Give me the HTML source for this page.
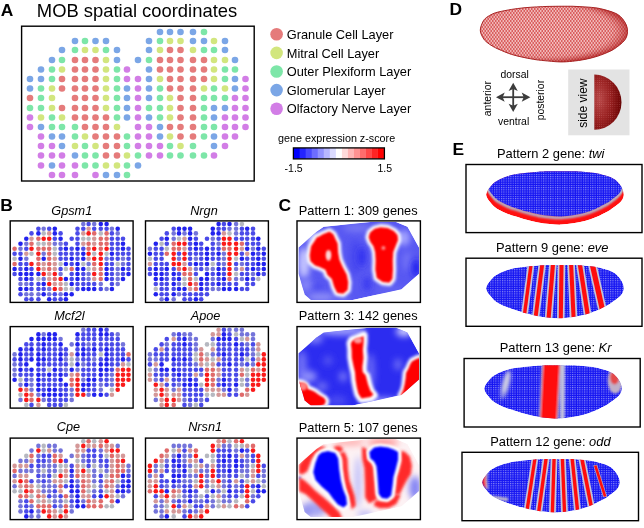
<!DOCTYPE html>
<html><head><meta charset="utf-8"><title>MOB spatial coordinates</title>
<style>html,body{margin:0;padding:0;background:#fff;overflow:hidden;}svg{display:block;}</style></head>
<body><svg width="644" height="528" viewBox="0 0 644 528" font-family='"Liberation Sans", Arial, Helvetica, sans-serif' fill="#000">
<defs><clipPath id="hull"><polygon points="1.5,26.6 19.4,10.8 26.7,5.9 74.2,1.0 98.8,1.0 110.5,5.9 122.0,26.6 122.0,52.8 110.5,63.2 104.4,68.4 55.7,79.0 13.8,79.0 7.7,73.8 1.5,52.8"/></clipPath><filter id="bl3" x="-100%" y="-100%" width="300%" height="300%"><feGaussianBlur stdDeviation="3"/></filter><filter id="bl2" x="-100%" y="-100%" width="300%" height="300%"><feGaussianBlur stdDeviation="1.8"/></filter><filter id="bl1" x="-100%" y="-100%" width="300%" height="300%"><feGaussianBlur stdDeviation="0.8"/></filter><filter id="bl05" x="-100%" y="-100%" width="300%" height="300%"><feGaussianBlur stdDeviation="0.45"/></filter><path id="emb" d="M20.10,30.25 C20.10,29.14 20.65,27.90 21.20,26.79 C21.75,25.68 22.21,25.06 23.40,23.59 C24.60,22.12 26.04,19.73 28.36,17.99 C30.68,16.26 34.10,14.51 37.31,13.20 C40.53,11.88 43.76,10.94 47.64,10.10 C51.52,9.27 56.45,8.67 60.58,8.19 C64.71,7.71 68.55,7.46 72.43,7.23 C76.30,7.00 78.07,6.87 83.86,6.80 C89.64,6.73 101.23,6.69 107.13,6.80 C113.02,6.91 115.39,7.12 119.24,7.44 C123.10,7.76 126.45,8.01 130.26,8.72 C134.07,9.43 139.07,10.69 142.10,11.70 C145.13,12.72 146.69,13.66 148.44,14.79 C150.18,15.93 151.24,16.93 152.57,18.53 C153.90,20.12 155.55,22.48 156.42,24.39 C157.30,26.30 157.80,28.21 157.80,29.99 C157.80,31.76 157.30,33.49 156.42,35.05 C155.55,36.60 154.17,37.89 152.57,39.31 C150.96,40.73 148.53,42.33 146.78,43.58 C145.04,44.82 144.86,45.27 142.10,46.77 C139.35,48.28 134.14,50.95 130.26,52.58 C126.38,54.22 122.69,55.53 118.83,56.58 C114.98,57.63 111.03,58.29 107.13,58.87 C103.22,59.46 99.30,59.98 95.42,60.10 C91.54,60.22 87.73,59.90 83.86,59.57 C79.98,59.23 76.03,58.79 72.15,58.07 C68.27,57.36 64.44,56.34 60.58,55.30 C56.73,54.26 52.32,52.90 49.02,51.84 C45.71,50.77 43.28,49.93 40.75,48.91 C38.23,47.89 35.94,46.82 33.87,45.71 C31.80,44.60 30.11,43.75 28.36,42.24 C26.62,40.73 24.60,38.11 23.40,36.65 C22.21,35.18 21.75,34.52 21.20,33.45 C20.65,32.38 20.10,31.36 20.10,30.25Z"/><clipPath id="embclip"><use href="#emb"/></clipPath><pattern id="dtex" width="3" height="4" patternUnits="userSpaceOnUse"><rect width="3" height="4" fill="#f4c0c0"/><ellipse cx="0.75" cy="1" rx="1.1" ry="0.78" fill="#d03a3a"/><ellipse cx="2.25" cy="3" rx="1.1" ry="0.78" fill="#d03a3a"/></pattern><pattern id="btex" width="2.4" height="2.2" patternUnits="userSpaceOnUse"><rect width="2.4" height="2.2" fill="#1616f2"/><circle cx="0.6" cy="0.55" r="0.62" fill="#9090f8"/></pattern><radialGradient id="dgrad" cx="0.45" cy="0.45" r="0.55"><stop offset="0" stop-color="#e9a4a4" stop-opacity="0"/><stop offset="0.8" stop-color="#d66c6c" stop-opacity="0.15"/><stop offset="1" stop-color="#b02020" stop-opacity="0.7"/></radialGradient><radialGradient id="sgrad" cx="0.2" cy="0.45" r="0.9"><stop offset="0" stop-color="#b84848"/><stop offset="0.4" stop-color="#9c2424"/><stop offset="0.8" stop-color="#740808"/><stop offset="1" stop-color="#520202"/></radialGradient><pattern id="stex" width="2.2" height="2.2" patternUnits="userSpaceOnUse"><circle cx="1.1" cy="1.1" r="0.45" fill="#e8a0a0"/></pattern></defs>
<text x="0.82" y="15.5" font-size="17.4" font-weight="bold">A</text>
<text x="36.82" y="17.2" font-size="18.4">MOB spatial coordinates</text>
<rect x="21.6" y="26.2" width="232.6" height="154.8" fill="none" stroke="#000" stroke-width="1.4"/>
<circle cx="160" cy="32" r="3.3" fill="#7ba6e6"/>
<circle cx="170" cy="32" r="3.3" fill="#7ba6e6"/>
<circle cx="180.5" cy="32" r="3.3" fill="#7ba6e6"/>
<circle cx="193" cy="32" r="3.3" fill="#7ba6e6"/>
<circle cx="204" cy="32" r="3.3" fill="#7de6a8"/>
<circle cx="75" cy="41" r="3.3" fill="#7ba6e6"/>
<circle cx="85" cy="41" r="3.3" fill="#7de6a8"/>
<circle cx="95.5" cy="41" r="3.3" fill="#7ba6e6"/>
<circle cx="106" cy="41" r="3.3" fill="#7ba6e6"/>
<circle cx="149" cy="41" r="3.3" fill="#7ba6e6"/>
<circle cx="160" cy="41" r="3.3" fill="#7de6a8"/>
<circle cx="170" cy="41" r="3.3" fill="#d2e67e"/>
<circle cx="180.5" cy="41" r="3.3" fill="#d2e67e"/>
<circle cx="193" cy="41" r="3.3" fill="#7ba6e6"/>
<circle cx="204" cy="41" r="3.3" fill="#7ba6e6"/>
<circle cx="214" cy="41" r="3.3" fill="#d2e67e"/>
<circle cx="225" cy="41" r="3.3" fill="#7ba6e6"/>
<circle cx="62" cy="50" r="3.3" fill="#7ba6e6"/>
<circle cx="75" cy="50" r="3.3" fill="#7de6a8"/>
<circle cx="85" cy="50" r="3.3" fill="#d2e67e"/>
<circle cx="95.5" cy="50" r="3.3" fill="#d2e67e"/>
<circle cx="106" cy="50" r="3.3" fill="#7de6a8"/>
<circle cx="117" cy="50" r="3.3" fill="#7ba6e6"/>
<circle cx="149" cy="50" r="3.3" fill="#7ba6e6"/>
<circle cx="160" cy="50" r="3.3" fill="#d2e67e"/>
<circle cx="170" cy="50" r="3.3" fill="#e57b7b"/>
<circle cx="180.5" cy="50" r="3.3" fill="#e57b7b"/>
<circle cx="193" cy="50" r="3.3" fill="#d2e67e"/>
<circle cx="204" cy="50" r="3.3" fill="#7de6a8"/>
<circle cx="214" cy="50" r="3.3" fill="#7de6a8"/>
<circle cx="225" cy="50" r="3.3" fill="#7ba6e6"/>
<circle cx="52" cy="60" r="3.3" fill="#7ba6e6"/>
<circle cx="62" cy="60" r="3.3" fill="#7de6a8"/>
<circle cx="75" cy="60" r="3.3" fill="#e57b7b"/>
<circle cx="85" cy="60" r="3.3" fill="#e57b7b"/>
<circle cx="95.5" cy="60" r="3.3" fill="#e57b7b"/>
<circle cx="106" cy="60" r="3.3" fill="#d2e67e"/>
<circle cx="117" cy="60" r="3.3" fill="#7ba6e6"/>
<circle cx="138" cy="60" r="3.3" fill="#7ba6e6"/>
<circle cx="149" cy="60" r="3.3" fill="#7de6a8"/>
<circle cx="160" cy="60" r="3.3" fill="#e57b7b"/>
<circle cx="170" cy="60" r="3.3" fill="#e57b7b"/>
<circle cx="180.5" cy="60" r="3.3" fill="#e57b7b"/>
<circle cx="193" cy="60" r="3.3" fill="#e57b7b"/>
<circle cx="204" cy="60" r="3.3" fill="#e57b7b"/>
<circle cx="214" cy="60" r="3.3" fill="#d2e67e"/>
<circle cx="225" cy="60" r="3.3" fill="#d2e67e"/>
<circle cx="235" cy="60" r="3.3" fill="#7ba6e6"/>
<circle cx="41" cy="69.5" r="3.3" fill="#7ba6e6"/>
<circle cx="52" cy="69.5" r="3.3" fill="#7de6a8"/>
<circle cx="62" cy="69.5" r="3.3" fill="#d2e67e"/>
<circle cx="75" cy="69.5" r="3.3" fill="#e57b7b"/>
<circle cx="85" cy="69.5" r="3.3" fill="#e57b7b"/>
<circle cx="95.5" cy="69.5" r="3.3" fill="#e57b7b"/>
<circle cx="106" cy="69.5" r="3.3" fill="#d2e67e"/>
<circle cx="117" cy="69.5" r="3.3" fill="#7de6a8"/>
<circle cx="127" cy="69.5" r="3.3" fill="#d27de6"/>
<circle cx="149" cy="69.5" r="3.3" fill="#7ba6e6"/>
<circle cx="160" cy="69.5" r="3.3" fill="#e57b7b"/>
<circle cx="170" cy="69.5" r="3.3" fill="#e57b7b"/>
<circle cx="180.5" cy="69.5" r="3.3" fill="#e57b7b"/>
<circle cx="193" cy="69.5" r="3.3" fill="#e57b7b"/>
<circle cx="204" cy="69.5" r="3.3" fill="#e57b7b"/>
<circle cx="214" cy="69.5" r="3.3" fill="#d2e67e"/>
<circle cx="225" cy="69.5" r="3.3" fill="#7de6a8"/>
<circle cx="235" cy="69.5" r="3.3" fill="#7de6a8"/>
<circle cx="30" cy="79" r="3.3" fill="#7ba6e6"/>
<circle cx="41" cy="79" r="3.3" fill="#7ba6e6"/>
<circle cx="52" cy="79" r="3.3" fill="#7de6a8"/>
<circle cx="62" cy="79" r="3.3" fill="#e57b7b"/>
<circle cx="75" cy="79" r="3.3" fill="#e57b7b"/>
<circle cx="85" cy="79" r="3.3" fill="#e57b7b"/>
<circle cx="95.5" cy="79" r="3.3" fill="#e57b7b"/>
<circle cx="106" cy="79" r="3.3" fill="#d2e67e"/>
<circle cx="117" cy="79" r="3.3" fill="#7de6a8"/>
<circle cx="127" cy="79" r="3.3" fill="#d27de6"/>
<circle cx="138" cy="79" r="3.3" fill="#d27de6"/>
<circle cx="149" cy="79" r="3.3" fill="#7ba6e6"/>
<circle cx="160" cy="79" r="3.3" fill="#d2e67e"/>
<circle cx="170" cy="79" r="3.3" fill="#e57b7b"/>
<circle cx="180.5" cy="79" r="3.3" fill="#e57b7b"/>
<circle cx="193" cy="79" r="3.3" fill="#e57b7b"/>
<circle cx="204" cy="79" r="3.3" fill="#e57b7b"/>
<circle cx="214" cy="79" r="3.3" fill="#d2e67e"/>
<circle cx="225" cy="79" r="3.3" fill="#7de6a8"/>
<circle cx="235" cy="79" r="3.3" fill="#7ba6e6"/>
<circle cx="245.5" cy="79" r="3.3" fill="#d27de6"/>
<circle cx="30" cy="88.5" r="3.3" fill="#7ba6e6"/>
<circle cx="41" cy="88.5" r="3.3" fill="#7de6a8"/>
<circle cx="52" cy="88.5" r="3.3" fill="#d2e67e"/>
<circle cx="62" cy="88.5" r="3.3" fill="#e57b7b"/>
<circle cx="75" cy="88.5" r="3.3" fill="#e57b7b"/>
<circle cx="85" cy="88.5" r="3.3" fill="#e57b7b"/>
<circle cx="95.5" cy="88.5" r="3.3" fill="#e57b7b"/>
<circle cx="106" cy="88.5" r="3.3" fill="#d2e67e"/>
<circle cx="117" cy="88.5" r="3.3" fill="#7de6a8"/>
<circle cx="127" cy="88.5" r="3.3" fill="#7ba6e6"/>
<circle cx="138" cy="88.5" r="3.3" fill="#d27de6"/>
<circle cx="149" cy="88.5" r="3.3" fill="#7ba6e6"/>
<circle cx="160" cy="88.5" r="3.3" fill="#7de6a8"/>
<circle cx="170" cy="88.5" r="3.3" fill="#e57b7b"/>
<circle cx="180.5" cy="88.5" r="3.3" fill="#e57b7b"/>
<circle cx="193" cy="88.5" r="3.3" fill="#e57b7b"/>
<circle cx="204" cy="88.5" r="3.3" fill="#d2e67e"/>
<circle cx="214" cy="88.5" r="3.3" fill="#7de6a8"/>
<circle cx="225" cy="88.5" r="3.3" fill="#d2e67e"/>
<circle cx="235" cy="88.5" r="3.3" fill="#7ba6e6"/>
<circle cx="245.5" cy="88.5" r="3.3" fill="#d27de6"/>
<circle cx="30" cy="98" r="3.3" fill="#e57b7b"/>
<circle cx="41" cy="98" r="3.3" fill="#7de6a8"/>
<circle cx="52" cy="98" r="3.3" fill="#d2e67e"/>
<circle cx="75" cy="98" r="3.3" fill="#e57b7b"/>
<circle cx="85" cy="98" r="3.3" fill="#e57b7b"/>
<circle cx="95.5" cy="98" r="3.3" fill="#e57b7b"/>
<circle cx="106" cy="98" r="3.3" fill="#d2e67e"/>
<circle cx="117" cy="98" r="3.3" fill="#7de6a8"/>
<circle cx="127" cy="98" r="3.3" fill="#7ba6e6"/>
<circle cx="138" cy="98" r="3.3" fill="#d27de6"/>
<circle cx="149" cy="98" r="3.3" fill="#7ba6e6"/>
<circle cx="160" cy="98" r="3.3" fill="#7de6a8"/>
<circle cx="170" cy="98" r="3.3" fill="#d2e67e"/>
<circle cx="180.5" cy="98" r="3.3" fill="#e57b7b"/>
<circle cx="193" cy="98" r="3.3" fill="#e57b7b"/>
<circle cx="204" cy="98" r="3.3" fill="#7de6a8"/>
<circle cx="214" cy="98" r="3.3" fill="#7de6a8"/>
<circle cx="225" cy="98" r="3.3" fill="#7de6a8"/>
<circle cx="235" cy="98" r="3.3" fill="#d27de6"/>
<circle cx="245.5" cy="98" r="3.3" fill="#d27de6"/>
<circle cx="30" cy="108" r="3.3" fill="#7de6a8"/>
<circle cx="41" cy="108" r="3.3" fill="#7de6a8"/>
<circle cx="52" cy="108" r="3.3" fill="#d2e67e"/>
<circle cx="62" cy="108" r="3.3" fill="#e57b7b"/>
<circle cx="75" cy="108" r="3.3" fill="#e57b7b"/>
<circle cx="85" cy="108" r="3.3" fill="#e57b7b"/>
<circle cx="95.5" cy="108" r="3.3" fill="#e57b7b"/>
<circle cx="106" cy="108" r="3.3" fill="#d2e67e"/>
<circle cx="117" cy="108" r="3.3" fill="#7de6a8"/>
<circle cx="127" cy="108" r="3.3" fill="#7ba6e6"/>
<circle cx="138" cy="108" r="3.3" fill="#d27de6"/>
<circle cx="149" cy="108" r="3.3" fill="#7de6a8"/>
<circle cx="160" cy="108" r="3.3" fill="#7de6a8"/>
<circle cx="170" cy="108" r="3.3" fill="#d2e67e"/>
<circle cx="180.5" cy="108" r="3.3" fill="#e57b7b"/>
<circle cx="193" cy="108" r="3.3" fill="#e57b7b"/>
<circle cx="204" cy="108" r="3.3" fill="#7de6a8"/>
<circle cx="214" cy="108" r="3.3" fill="#7ba6e6"/>
<circle cx="225" cy="108" r="3.3" fill="#7ba6e6"/>
<circle cx="235" cy="108" r="3.3" fill="#d27de6"/>
<circle cx="245.5" cy="108" r="3.3" fill="#d27de6"/>
<circle cx="30" cy="117.5" r="3.3" fill="#d27de6"/>
<circle cx="41" cy="117.5" r="3.3" fill="#d2e67e"/>
<circle cx="52" cy="117.5" r="3.3" fill="#7de6a8"/>
<circle cx="62" cy="117.5" r="3.3" fill="#d2e67e"/>
<circle cx="75" cy="117.5" r="3.3" fill="#e57b7b"/>
<circle cx="85" cy="117.5" r="3.3" fill="#e57b7b"/>
<circle cx="95.5" cy="117.5" r="3.3" fill="#e57b7b"/>
<circle cx="106" cy="117.5" r="3.3" fill="#e57b7b"/>
<circle cx="117" cy="117.5" r="3.3" fill="#7de6a8"/>
<circle cx="127" cy="117.5" r="3.3" fill="#7ba6e6"/>
<circle cx="138" cy="117.5" r="3.3" fill="#d27de6"/>
<circle cx="149" cy="117.5" r="3.3" fill="#7ba6e6"/>
<circle cx="160" cy="117.5" r="3.3" fill="#7de6a8"/>
<circle cx="170" cy="117.5" r="3.3" fill="#d2e67e"/>
<circle cx="180.5" cy="117.5" r="3.3" fill="#e57b7b"/>
<circle cx="193" cy="117.5" r="3.3" fill="#e57b7b"/>
<circle cx="204" cy="117.5" r="3.3" fill="#7de6a8"/>
<circle cx="214" cy="117.5" r="3.3" fill="#7ba6e6"/>
<circle cx="225" cy="117.5" r="3.3" fill="#d27de6"/>
<circle cx="235" cy="117.5" r="3.3" fill="#d27de6"/>
<circle cx="245.5" cy="117.5" r="3.3" fill="#d27de6"/>
<circle cx="30" cy="127" r="3.3" fill="#d27de6"/>
<circle cx="41" cy="127" r="3.3" fill="#7ba6e6"/>
<circle cx="52" cy="127" r="3.3" fill="#7de6a8"/>
<circle cx="62" cy="127" r="3.3" fill="#7de6a8"/>
<circle cx="75" cy="127" r="3.3" fill="#7de6a8"/>
<circle cx="85" cy="127" r="3.3" fill="#e57b7b"/>
<circle cx="95.5" cy="127" r="3.3" fill="#e57b7b"/>
<circle cx="106" cy="127" r="3.3" fill="#e57b7b"/>
<circle cx="117" cy="127" r="3.3" fill="#d2e67e"/>
<circle cx="138" cy="127" r="3.3" fill="#d27de6"/>
<circle cx="149" cy="127" r="3.3" fill="#d27de6"/>
<circle cx="160" cy="127" r="3.3" fill="#7ba6e6"/>
<circle cx="170" cy="127" r="3.3" fill="#e57b7b"/>
<circle cx="180.5" cy="127" r="3.3" fill="#e57b7b"/>
<circle cx="193" cy="127" r="3.3" fill="#e57b7b"/>
<circle cx="204" cy="127" r="3.3" fill="#7de6a8"/>
<circle cx="214" cy="127" r="3.3" fill="#7de6a8"/>
<circle cx="225" cy="127" r="3.3" fill="#d27de6"/>
<circle cx="235" cy="127" r="3.3" fill="#d27de6"/>
<circle cx="245.5" cy="127" r="3.3" fill="#d27de6"/>
<circle cx="41" cy="136.5" r="3.3" fill="#d27de6"/>
<circle cx="52" cy="136.5" r="3.3" fill="#7ba6e6"/>
<circle cx="62" cy="136.5" r="3.3" fill="#7ba6e6"/>
<circle cx="75" cy="136.5" r="3.3" fill="#7de6a8"/>
<circle cx="85" cy="136.5" r="3.3" fill="#d2e67e"/>
<circle cx="95.5" cy="136.5" r="3.3" fill="#e57b7b"/>
<circle cx="106" cy="136.5" r="3.3" fill="#e57b7b"/>
<circle cx="117" cy="136.5" r="3.3" fill="#e57b7b"/>
<circle cx="127" cy="136.5" r="3.3" fill="#7de6a8"/>
<circle cx="138" cy="136.5" r="3.3" fill="#d27de6"/>
<circle cx="149" cy="136.5" r="3.3" fill="#d27de6"/>
<circle cx="160" cy="136.5" r="3.3" fill="#7ba6e6"/>
<circle cx="170" cy="136.5" r="3.3" fill="#d2e67e"/>
<circle cx="180.5" cy="136.5" r="3.3" fill="#e57b7b"/>
<circle cx="193" cy="136.5" r="3.3" fill="#e57b7b"/>
<circle cx="204" cy="136.5" r="3.3" fill="#7de6a8"/>
<circle cx="214" cy="136.5" r="3.3" fill="#7ba6e6"/>
<circle cx="225" cy="136.5" r="3.3" fill="#d27de6"/>
<circle cx="235" cy="136.5" r="3.3" fill="#d27de6"/>
<circle cx="41" cy="146" r="3.3" fill="#d27de6"/>
<circle cx="52" cy="146" r="3.3" fill="#d27de6"/>
<circle cx="62" cy="146" r="3.3" fill="#7ba6e6"/>
<circle cx="75" cy="146" r="3.3" fill="#d2e67e"/>
<circle cx="85" cy="146" r="3.3" fill="#7de6a8"/>
<circle cx="95.5" cy="146" r="3.3" fill="#d2e67e"/>
<circle cx="106" cy="146" r="3.3" fill="#e57b7b"/>
<circle cx="117" cy="146" r="3.3" fill="#e57b7b"/>
<circle cx="127" cy="146" r="3.3" fill="#7de6a8"/>
<circle cx="138" cy="146" r="3.3" fill="#d27de6"/>
<circle cx="149" cy="146" r="3.3" fill="#d27de6"/>
<circle cx="160" cy="146" r="3.3" fill="#d27de6"/>
<circle cx="170" cy="146" r="3.3" fill="#7de6a8"/>
<circle cx="180.5" cy="146" r="3.3" fill="#d2e67e"/>
<circle cx="193" cy="146" r="3.3" fill="#7de6a8"/>
<circle cx="214" cy="146" r="3.3" fill="#7ba6e6"/>
<circle cx="225" cy="146" r="3.3" fill="#d27de6"/>
<circle cx="41" cy="155.5" r="3.3" fill="#d27de6"/>
<circle cx="52" cy="155.5" r="3.3" fill="#d27de6"/>
<circle cx="62" cy="155.5" r="3.3" fill="#d27de6"/>
<circle cx="75" cy="155.5" r="3.3" fill="#7ba6e6"/>
<circle cx="85" cy="155.5" r="3.3" fill="#7de6a8"/>
<circle cx="95.5" cy="155.5" r="3.3" fill="#7de6a8"/>
<circle cx="106" cy="155.5" r="3.3" fill="#e57b7b"/>
<circle cx="117" cy="155.5" r="3.3" fill="#e57b7b"/>
<circle cx="127" cy="155.5" r="3.3" fill="#d2e67e"/>
<circle cx="138" cy="155.5" r="3.3" fill="#7de6a8"/>
<circle cx="149" cy="155.5" r="3.3" fill="#d27de6"/>
<circle cx="160" cy="155.5" r="3.3" fill="#d27de6"/>
<circle cx="170" cy="155.5" r="3.3" fill="#7de6a8"/>
<circle cx="180.5" cy="155.5" r="3.3" fill="#7de6a8"/>
<circle cx="193" cy="155.5" r="3.3" fill="#7de6a8"/>
<circle cx="204" cy="155.5" r="3.3" fill="#7de6a8"/>
<circle cx="214" cy="155.5" r="3.3" fill="#d27de6"/>
<circle cx="41" cy="165.5" r="3.3" fill="#d27de6"/>
<circle cx="52" cy="165.5" r="3.3" fill="#7ba6e6"/>
<circle cx="62" cy="165.5" r="3.3" fill="#d27de6"/>
<circle cx="75" cy="165.5" r="3.3" fill="#d27de6"/>
<circle cx="85" cy="165.5" r="3.3" fill="#7de6a8"/>
<circle cx="95.5" cy="165.5" r="3.3" fill="#7de6a8"/>
<circle cx="106" cy="165.5" r="3.3" fill="#d2e67e"/>
<circle cx="117" cy="165.5" r="3.3" fill="#d2e67e"/>
<circle cx="127" cy="165.5" r="3.3" fill="#7de6a8"/>
<circle cx="138" cy="165.5" r="3.3" fill="#7ba6e6"/>
<circle cx="52" cy="175" r="3.3" fill="#d27de6"/>
<circle cx="62" cy="175" r="3.3" fill="#d27de6"/>
<circle cx="75" cy="175" r="3.3" fill="#d27de6"/>
<circle cx="95.5" cy="175" r="3.3" fill="#d27de6"/>
<circle cx="106" cy="175" r="3.3" fill="#7ba6e6"/>
<circle cx="117" cy="175" r="3.3" fill="#7ba6e6"/>
<circle cx="127" cy="175" r="3.3" fill="#7de6a8"/>
<circle cx="276.6" cy="34.3" r="6.3" fill="#e57b7b"/>
<text x="286.74" y="39.0" font-size="12.8">Granule Cell Layer</text>
<circle cx="276.6" cy="52.9" r="6.3" fill="#d2e67e"/>
<text x="286.74" y="57.6" font-size="12.8">Mitral Cell Layer</text>
<circle cx="276.6" cy="71.5" r="6.3" fill="#7de6a8"/>
<text x="286.74" y="76.2" font-size="12.8">Outer Plexiform Layer</text>
<circle cx="276.6" cy="90.1" r="6.3" fill="#7ba6e6"/>
<text x="286.74" y="94.8" font-size="12.8">Glomerular Layer</text>
<circle cx="276.6" cy="108.7" r="6.3" fill="#d27de6"/>
<text x="286.74" y="113.4" font-size="12.8">Olfactory Nerve Layer</text>
<text x="278.0" y="141.8" font-size="10.76">gene expression z-score</text>
<rect x="293.9" y="148" width="6.05" height="10.8" fill="rgb(0,0,255)"/>
<rect x="299.9" y="148" width="6.05" height="10.8" fill="rgb(36,36,255)"/>
<rect x="305.9" y="148" width="6.05" height="10.8" fill="rgb(73,73,255)"/>
<rect x="311.9" y="148" width="6.05" height="10.8" fill="rgb(109,109,255)"/>
<rect x="317.9" y="148" width="6.05" height="10.8" fill="rgb(146,146,255)"/>
<rect x="323.9" y="148" width="6.05" height="10.8" fill="rgb(182,182,255)"/>
<rect x="329.9" y="148" width="6.05" height="10.8" fill="rgb(219,219,255)"/>
<rect x="335.9" y="148" width="6.05" height="10.8" fill="rgb(255,255,255)"/>
<rect x="341.9" y="148" width="6.05" height="10.8" fill="rgb(255,219,219)"/>
<rect x="347.9" y="148" width="6.05" height="10.8" fill="rgb(255,182,182)"/>
<rect x="353.9" y="148" width="6.05" height="10.8" fill="rgb(255,146,146)"/>
<rect x="359.9" y="148" width="6.05" height="10.8" fill="rgb(255,109,109)"/>
<rect x="365.9" y="148" width="6.05" height="10.8" fill="rgb(255,73,73)"/>
<rect x="371.9" y="148" width="6.05" height="10.8" fill="rgb(255,36,36)"/>
<rect x="377.9" y="148" width="6.05" height="10.8" fill="rgb(255,0,0)"/>
<rect x="293.4" y="147.9" width="91" height="11" fill="none" stroke="#000" stroke-width="1.3"/>
<text x="284.6" y="171.6" font-size="10.5">-1.5</text>
<text x="377.5" y="171.6" font-size="10.5">1.5</text>
<text x="0.22" y="211.3" font-size="17.4" font-weight="bold">B</text>
<circle cx="83.3" cy="224.0" r="2.3" fill="#7474da"/>
<circle cx="88.6" cy="224.0" r="2.3" fill="#4a4ae8"/>
<circle cx="94.2" cy="224.0" r="2.3" fill="#7474da"/>
<circle cx="100.8" cy="224.0" r="2.3" fill="#2222ee"/>
<circle cx="106.6" cy="224.0" r="2.3" fill="#2222ee"/>
<circle cx="38.4" cy="228.7" r="2.3" fill="#4a4ae8"/>
<circle cx="43.7" cy="228.7" r="2.3" fill="#7474da"/>
<circle cx="49.2" cy="228.7" r="2.3" fill="#4a4ae8"/>
<circle cx="54.8" cy="228.7" r="2.3" fill="#2222ee"/>
<circle cx="77.5" cy="228.7" r="2.3" fill="#4a4ae8"/>
<circle cx="83.3" cy="228.7" r="2.3" fill="#4a4ae8"/>
<circle cx="88.6" cy="228.7" r="2.3" fill="#d49898"/>
<circle cx="94.2" cy="228.7" r="2.3" fill="#4a4ae8"/>
<circle cx="100.8" cy="228.7" r="2.3" fill="#4a4ae8"/>
<circle cx="106.6" cy="228.7" r="2.3" fill="#4a4ae8"/>
<circle cx="111.9" cy="228.7" r="2.3" fill="#7474da"/>
<circle cx="117.7" cy="228.7" r="2.3" fill="#2222ee"/>
<circle cx="31.5" cy="233.4" r="2.3" fill="#4a4ae8"/>
<circle cx="38.4" cy="233.4" r="2.3" fill="#2222ee"/>
<circle cx="43.7" cy="233.4" r="2.3" fill="#b6b8c0"/>
<circle cx="49.2" cy="233.4" r="2.3" fill="#d49898"/>
<circle cx="54.8" cy="233.4" r="2.3" fill="#2222ee"/>
<circle cx="60.6" cy="233.4" r="2.3" fill="#4a4ae8"/>
<circle cx="77.5" cy="233.4" r="2.3" fill="#4a4ae8"/>
<circle cx="83.3" cy="233.4" r="2.3" fill="#d49898"/>
<circle cx="88.6" cy="233.4" r="2.3" fill="#fa1a1a"/>
<circle cx="94.2" cy="233.4" r="2.3" fill="#e06a6a"/>
<circle cx="100.8" cy="233.4" r="2.3" fill="#b6b8c0"/>
<circle cx="106.6" cy="233.4" r="2.3" fill="#e06a6a"/>
<circle cx="111.9" cy="233.4" r="2.3" fill="#4a4ae8"/>
<circle cx="117.7" cy="233.4" r="2.3" fill="#7474da"/>
<circle cx="26.3" cy="238.7" r="2.3" fill="#2222ee"/>
<circle cx="31.5" cy="238.7" r="2.3" fill="#d49898"/>
<circle cx="38.4" cy="238.7" r="2.3" fill="#e06a6a"/>
<circle cx="43.7" cy="238.7" r="2.3" fill="#fa1a1a"/>
<circle cx="49.2" cy="238.7" r="2.3" fill="#fa1a1a"/>
<circle cx="54.8" cy="238.7" r="2.3" fill="#4a4ae8"/>
<circle cx="60.6" cy="238.7" r="2.3" fill="#2222ee"/>
<circle cx="71.7" cy="238.7" r="2.3" fill="#4a4ae8"/>
<circle cx="77.5" cy="238.7" r="2.3" fill="#4a4ae8"/>
<circle cx="83.3" cy="238.7" r="2.3" fill="#b6b8c0"/>
<circle cx="88.6" cy="238.7" r="2.3" fill="#b6b8c0"/>
<circle cx="94.2" cy="238.7" r="2.3" fill="#d49898"/>
<circle cx="100.8" cy="238.7" r="2.3" fill="#e06a6a"/>
<circle cx="106.6" cy="238.7" r="2.3" fill="#e06a6a"/>
<circle cx="111.9" cy="238.7" r="2.3" fill="#4a4ae8"/>
<circle cx="117.7" cy="238.7" r="2.3" fill="#4a4ae8"/>
<circle cx="123.0" cy="238.7" r="2.3" fill="#4a4ae8"/>
<circle cx="20.5" cy="243.7" r="2.3" fill="#2222ee"/>
<circle cx="26.3" cy="243.7" r="2.3" fill="#7474da"/>
<circle cx="31.5" cy="243.7" r="2.3" fill="#e06a6a"/>
<circle cx="38.4" cy="243.7" r="2.3" fill="#b6b8c0"/>
<circle cx="43.7" cy="243.7" r="2.3" fill="#b6b8c0"/>
<circle cx="49.2" cy="243.7" r="2.3" fill="#d49898"/>
<circle cx="54.8" cy="243.7" r="2.3" fill="#7474da"/>
<circle cx="60.6" cy="243.7" r="2.3" fill="#7474da"/>
<circle cx="65.9" cy="243.7" r="2.3" fill="#4a4ae8"/>
<circle cx="77.5" cy="243.7" r="2.3" fill="#4a4ae8"/>
<circle cx="83.3" cy="243.7" r="2.3" fill="#d49898"/>
<circle cx="88.6" cy="243.7" r="2.3" fill="#e06a6a"/>
<circle cx="94.2" cy="243.7" r="2.3" fill="#d49898"/>
<circle cx="100.8" cy="243.7" r="2.3" fill="#e06a6a"/>
<circle cx="106.6" cy="243.7" r="2.3" fill="#e06a6a"/>
<circle cx="111.9" cy="243.7" r="2.3" fill="#4a4ae8"/>
<circle cx="117.7" cy="243.7" r="2.3" fill="#4a4ae8"/>
<circle cx="123.0" cy="243.7" r="2.3" fill="#2222ee"/>
<circle cx="14.6" cy="248.7" r="2.3" fill="#e06a6a"/>
<circle cx="20.5" cy="248.7" r="2.3" fill="#7474da"/>
<circle cx="26.3" cy="248.7" r="2.3" fill="#4a4ae8"/>
<circle cx="31.5" cy="248.7" r="2.3" fill="#fa1a1a"/>
<circle cx="38.4" cy="248.7" r="2.3" fill="#e06a6a"/>
<circle cx="43.7" cy="248.7" r="2.3" fill="#e06a6a"/>
<circle cx="49.2" cy="248.7" r="2.3" fill="#e06a6a"/>
<circle cx="54.8" cy="248.7" r="2.3" fill="#b6b8c0"/>
<circle cx="60.6" cy="248.7" r="2.3" fill="#4a4ae8"/>
<circle cx="65.9" cy="248.7" r="2.3" fill="#2222ee"/>
<circle cx="71.7" cy="248.7" r="2.3" fill="#4a4ae8"/>
<circle cx="77.5" cy="248.7" r="2.3" fill="#2222ee"/>
<circle cx="83.3" cy="248.7" r="2.3" fill="#4a4ae8"/>
<circle cx="88.6" cy="248.7" r="2.3" fill="#e06a6a"/>
<circle cx="94.2" cy="248.7" r="2.3" fill="#fa1a1a"/>
<circle cx="100.8" cy="248.7" r="2.3" fill="#e06a6a"/>
<circle cx="106.6" cy="248.7" r="2.3" fill="#fa1a1a"/>
<circle cx="111.9" cy="248.7" r="2.3" fill="#4a4ae8"/>
<circle cx="117.7" cy="248.7" r="2.3" fill="#4a4ae8"/>
<circle cx="123.0" cy="248.7" r="2.3" fill="#2222ee"/>
<circle cx="128.5" cy="248.7" r="2.3" fill="#4a4ae8"/>
<circle cx="14.6" cy="253.7" r="2.3" fill="#4a4ae8"/>
<circle cx="20.5" cy="253.7" r="2.3" fill="#4a4ae8"/>
<circle cx="26.3" cy="253.7" r="2.3" fill="#d49898"/>
<circle cx="31.5" cy="253.7" r="2.3" fill="#b6b8c0"/>
<circle cx="38.4" cy="253.7" r="2.3" fill="#fa1a1a"/>
<circle cx="43.7" cy="253.7" r="2.3" fill="#7474da"/>
<circle cx="49.2" cy="253.7" r="2.3" fill="#e06a6a"/>
<circle cx="54.8" cy="253.7" r="2.3" fill="#b6b8c0"/>
<circle cx="60.6" cy="253.7" r="2.3" fill="#4a4ae8"/>
<circle cx="65.9" cy="253.7" r="2.3" fill="#4a4ae8"/>
<circle cx="71.7" cy="253.7" r="2.3" fill="#4a4ae8"/>
<circle cx="77.5" cy="253.7" r="2.3" fill="#4a4ae8"/>
<circle cx="83.3" cy="253.7" r="2.3" fill="#2222ee"/>
<circle cx="88.6" cy="253.7" r="2.3" fill="#fa1a1a"/>
<circle cx="94.2" cy="253.7" r="2.3" fill="#b6b8c0"/>
<circle cx="100.8" cy="253.7" r="2.3" fill="#fa1a1a"/>
<circle cx="106.6" cy="253.7" r="2.3" fill="#b6b8c0"/>
<circle cx="111.9" cy="253.7" r="2.3" fill="#2222ee"/>
<circle cx="117.7" cy="253.7" r="2.3" fill="#4a4ae8"/>
<circle cx="123.0" cy="253.7" r="2.3" fill="#4a4ae8"/>
<circle cx="128.5" cy="253.7" r="2.3" fill="#4a4ae8"/>
<circle cx="14.6" cy="258.7" r="2.3" fill="#b6b8c0"/>
<circle cx="20.5" cy="258.7" r="2.3" fill="#2222ee"/>
<circle cx="26.3" cy="258.7" r="2.3" fill="#7474da"/>
<circle cx="38.4" cy="258.7" r="2.3" fill="#e06a6a"/>
<circle cx="43.7" cy="258.7" r="2.3" fill="#2222ee"/>
<circle cx="49.2" cy="258.7" r="2.3" fill="#e06a6a"/>
<circle cx="54.8" cy="258.7" r="2.3" fill="#d49898"/>
<circle cx="60.6" cy="258.7" r="2.3" fill="#4a4ae8"/>
<circle cx="65.9" cy="258.7" r="2.3" fill="#4a4ae8"/>
<circle cx="71.7" cy="258.7" r="2.3" fill="#2222ee"/>
<circle cx="77.5" cy="258.7" r="2.3" fill="#4a4ae8"/>
<circle cx="83.3" cy="258.7" r="2.3" fill="#2222ee"/>
<circle cx="88.6" cy="258.7" r="2.3" fill="#d49898"/>
<circle cx="94.2" cy="258.7" r="2.3" fill="#fa1a1a"/>
<circle cx="100.8" cy="258.7" r="2.3" fill="#fa1a1a"/>
<circle cx="106.6" cy="258.7" r="2.3" fill="#7474da"/>
<circle cx="111.9" cy="258.7" r="2.3" fill="#4a4ae8"/>
<circle cx="117.7" cy="258.7" r="2.3" fill="#4a4ae8"/>
<circle cx="123.0" cy="258.7" r="2.3" fill="#7474da"/>
<circle cx="128.5" cy="258.7" r="2.3" fill="#4a4ae8"/>
<circle cx="14.6" cy="264.0" r="2.3" fill="#e06a6a"/>
<circle cx="20.5" cy="264.0" r="2.3" fill="#4a4ae8"/>
<circle cx="26.3" cy="264.0" r="2.3" fill="#4a4ae8"/>
<circle cx="31.5" cy="264.0" r="2.3" fill="#fa1a1a"/>
<circle cx="38.4" cy="264.0" r="2.3" fill="#e06a6a"/>
<circle cx="43.7" cy="264.0" r="2.3" fill="#d49898"/>
<circle cx="49.2" cy="264.0" r="2.3" fill="#e06a6a"/>
<circle cx="54.8" cy="264.0" r="2.3" fill="#d49898"/>
<circle cx="60.6" cy="264.0" r="2.3" fill="#b6b8c0"/>
<circle cx="65.9" cy="264.0" r="2.3" fill="#2222ee"/>
<circle cx="71.7" cy="264.0" r="2.3" fill="#4a4ae8"/>
<circle cx="77.5" cy="264.0" r="2.3" fill="#2222ee"/>
<circle cx="83.3" cy="264.0" r="2.3" fill="#b6b8c0"/>
<circle cx="88.6" cy="264.0" r="2.3" fill="#7474da"/>
<circle cx="94.2" cy="264.0" r="2.3" fill="#e06a6a"/>
<circle cx="100.8" cy="264.0" r="2.3" fill="#fa1a1a"/>
<circle cx="106.6" cy="264.0" r="2.3" fill="#4a4ae8"/>
<circle cx="111.9" cy="264.0" r="2.3" fill="#4a4ae8"/>
<circle cx="117.7" cy="264.0" r="2.3" fill="#b6b8c0"/>
<circle cx="123.0" cy="264.0" r="2.3" fill="#7474da"/>
<circle cx="128.5" cy="264.0" r="2.3" fill="#4a4ae8"/>
<circle cx="14.6" cy="269.0" r="2.3" fill="#2222ee"/>
<circle cx="20.5" cy="269.0" r="2.3" fill="#4a4ae8"/>
<circle cx="26.3" cy="269.0" r="2.3" fill="#2222ee"/>
<circle cx="31.5" cy="269.0" r="2.3" fill="#4a4ae8"/>
<circle cx="38.4" cy="269.0" r="2.3" fill="#fa1a1a"/>
<circle cx="43.7" cy="269.0" r="2.3" fill="#d49898"/>
<circle cx="49.2" cy="269.0" r="2.3" fill="#e06a6a"/>
<circle cx="54.8" cy="269.0" r="2.3" fill="#d49898"/>
<circle cx="60.6" cy="269.0" r="2.3" fill="#4a4ae8"/>
<circle cx="65.9" cy="269.0" r="2.3" fill="#b6b8c0"/>
<circle cx="71.7" cy="269.0" r="2.3" fill="#e06a6a"/>
<circle cx="77.5" cy="269.0" r="2.3" fill="#2222ee"/>
<circle cx="83.3" cy="269.0" r="2.3" fill="#2222ee"/>
<circle cx="88.6" cy="269.0" r="2.3" fill="#b6b8c0"/>
<circle cx="94.2" cy="269.0" r="2.3" fill="#d49898"/>
<circle cx="100.8" cy="269.0" r="2.3" fill="#e06a6a"/>
<circle cx="106.6" cy="269.0" r="2.3" fill="#2222ee"/>
<circle cx="111.9" cy="269.0" r="2.3" fill="#4a4ae8"/>
<circle cx="117.7" cy="269.0" r="2.3" fill="#7474da"/>
<circle cx="123.0" cy="269.0" r="2.3" fill="#2222ee"/>
<circle cx="128.5" cy="269.0" r="2.3" fill="#4a4ae8"/>
<circle cx="14.6" cy="274.0" r="2.3" fill="#4a4ae8"/>
<circle cx="20.5" cy="274.0" r="2.3" fill="#2222ee"/>
<circle cx="26.3" cy="274.0" r="2.3" fill="#2222ee"/>
<circle cx="31.5" cy="274.0" r="2.3" fill="#2222ee"/>
<circle cx="38.4" cy="274.0" r="2.3" fill="#2222ee"/>
<circle cx="43.7" cy="274.0" r="2.3" fill="#fa1a1a"/>
<circle cx="49.2" cy="274.0" r="2.3" fill="#d49898"/>
<circle cx="54.8" cy="274.0" r="2.3" fill="#fa1a1a"/>
<circle cx="60.6" cy="274.0" r="2.3" fill="#7474da"/>
<circle cx="71.7" cy="274.0" r="2.3" fill="#4a4ae8"/>
<circle cx="77.5" cy="274.0" r="2.3" fill="#2222ee"/>
<circle cx="83.3" cy="274.0" r="2.3" fill="#4a4ae8"/>
<circle cx="88.6" cy="274.0" r="2.3" fill="#7474da"/>
<circle cx="94.2" cy="274.0" r="2.3" fill="#fa1a1a"/>
<circle cx="100.8" cy="274.0" r="2.3" fill="#e06a6a"/>
<circle cx="106.6" cy="274.0" r="2.3" fill="#2222ee"/>
<circle cx="111.9" cy="274.0" r="2.3" fill="#4a4ae8"/>
<circle cx="117.7" cy="274.0" r="2.3" fill="#7474da"/>
<circle cx="123.0" cy="274.0" r="2.3" fill="#4a4ae8"/>
<circle cx="128.5" cy="274.0" r="2.3" fill="#2222ee"/>
<circle cx="20.5" cy="279.0" r="2.3" fill="#4a4ae8"/>
<circle cx="26.3" cy="279.0" r="2.3" fill="#2222ee"/>
<circle cx="31.5" cy="279.0" r="2.3" fill="#4a4ae8"/>
<circle cx="38.4" cy="279.0" r="2.3" fill="#b6b8c0"/>
<circle cx="43.7" cy="279.0" r="2.3" fill="#7474da"/>
<circle cx="49.2" cy="279.0" r="2.3" fill="#d49898"/>
<circle cx="54.8" cy="279.0" r="2.3" fill="#e06a6a"/>
<circle cx="60.6" cy="279.0" r="2.3" fill="#fa1a1a"/>
<circle cx="65.9" cy="279.0" r="2.3" fill="#2222ee"/>
<circle cx="71.7" cy="279.0" r="2.3" fill="#4a4ae8"/>
<circle cx="77.5" cy="279.0" r="2.3" fill="#2222ee"/>
<circle cx="83.3" cy="279.0" r="2.3" fill="#4a4ae8"/>
<circle cx="88.6" cy="279.0" r="2.3" fill="#7474da"/>
<circle cx="94.2" cy="279.0" r="2.3" fill="#d49898"/>
<circle cx="100.8" cy="279.0" r="2.3" fill="#e06a6a"/>
<circle cx="106.6" cy="279.0" r="2.3" fill="#2222ee"/>
<circle cx="111.9" cy="279.0" r="2.3" fill="#4a4ae8"/>
<circle cx="117.7" cy="279.0" r="2.3" fill="#7474da"/>
<circle cx="123.0" cy="279.0" r="2.3" fill="#2222ee"/>
<circle cx="20.5" cy="284.0" r="2.3" fill="#7474da"/>
<circle cx="26.3" cy="284.0" r="2.3" fill="#7474da"/>
<circle cx="31.5" cy="284.0" r="2.3" fill="#4a4ae8"/>
<circle cx="38.4" cy="284.0" r="2.3" fill="#4a4ae8"/>
<circle cx="43.7" cy="284.0" r="2.3" fill="#2222ee"/>
<circle cx="49.2" cy="284.0" r="2.3" fill="#fa1a1a"/>
<circle cx="54.8" cy="284.0" r="2.3" fill="#d49898"/>
<circle cx="60.6" cy="284.0" r="2.3" fill="#d49898"/>
<circle cx="65.9" cy="284.0" r="2.3" fill="#b6b8c0"/>
<circle cx="71.7" cy="284.0" r="2.3" fill="#2222ee"/>
<circle cx="77.5" cy="284.0" r="2.3" fill="#4a4ae8"/>
<circle cx="83.3" cy="284.0" r="2.3" fill="#4a4ae8"/>
<circle cx="88.6" cy="284.0" r="2.3" fill="#4a4ae8"/>
<circle cx="94.2" cy="284.0" r="2.3" fill="#4a4ae8"/>
<circle cx="100.8" cy="284.0" r="2.3" fill="#7474da"/>
<circle cx="111.9" cy="284.0" r="2.3" fill="#4a4ae8"/>
<circle cx="117.7" cy="284.0" r="2.3" fill="#7474da"/>
<circle cx="20.5" cy="289.0" r="2.3" fill="#2222ee"/>
<circle cx="26.3" cy="289.0" r="2.3" fill="#2222ee"/>
<circle cx="31.5" cy="289.0" r="2.3" fill="#4a4ae8"/>
<circle cx="38.4" cy="289.0" r="2.3" fill="#4a4ae8"/>
<circle cx="43.7" cy="289.0" r="2.3" fill="#4a4ae8"/>
<circle cx="49.2" cy="289.0" r="2.3" fill="#7474da"/>
<circle cx="54.8" cy="289.0" r="2.3" fill="#fa1a1a"/>
<circle cx="60.6" cy="289.0" r="2.3" fill="#e06a6a"/>
<circle cx="65.9" cy="289.0" r="2.3" fill="#b6b8c0"/>
<circle cx="71.7" cy="289.0" r="2.3" fill="#b6b8c0"/>
<circle cx="77.5" cy="289.0" r="2.3" fill="#4a4ae8"/>
<circle cx="83.3" cy="289.0" r="2.3" fill="#2222ee"/>
<circle cx="88.6" cy="289.0" r="2.3" fill="#2222ee"/>
<circle cx="94.2" cy="289.0" r="2.3" fill="#2222ee"/>
<circle cx="100.8" cy="289.0" r="2.3" fill="#4a4ae8"/>
<circle cx="106.6" cy="289.0" r="2.3" fill="#7474da"/>
<circle cx="111.9" cy="289.0" r="2.3" fill="#2222ee"/>
<circle cx="20.5" cy="294.2" r="2.3" fill="#4a4ae8"/>
<circle cx="26.3" cy="294.2" r="2.3" fill="#7474da"/>
<circle cx="31.5" cy="294.2" r="2.3" fill="#7474da"/>
<circle cx="38.4" cy="294.2" r="2.3" fill="#7474da"/>
<circle cx="43.7" cy="294.2" r="2.3" fill="#2222ee"/>
<circle cx="49.2" cy="294.2" r="2.3" fill="#7474da"/>
<circle cx="54.8" cy="294.2" r="2.3" fill="#4a4ae8"/>
<circle cx="60.6" cy="294.2" r="2.3" fill="#7474da"/>
<circle cx="65.9" cy="294.2" r="2.3" fill="#2222ee"/>
<circle cx="71.7" cy="294.2" r="2.3" fill="#2222ee"/>
<circle cx="26.3" cy="299.2" r="2.3" fill="#4a4ae8"/>
<circle cx="31.5" cy="299.2" r="2.3" fill="#4a4ae8"/>
<circle cx="38.4" cy="299.2" r="2.3" fill="#4a4ae8"/>
<circle cx="49.2" cy="299.2" r="2.3" fill="#2222ee"/>
<circle cx="54.8" cy="299.2" r="2.3" fill="#4a4ae8"/>
<circle cx="60.6" cy="299.2" r="2.3" fill="#4a4ae8"/>
<circle cx="65.9" cy="299.2" r="2.3" fill="#2222ee"/>
<text x="51.32" y="214.8" font-size="12.7" font-style="italic">Gpsm1</text>
<rect x="10.2" y="220.9" width="122.9" height="81.5" fill="none" stroke="#000" stroke-width="1.4"/>
<circle cx="218.6" cy="224.0" r="2.3" fill="#2222ee"/>
<circle cx="223.9" cy="224.0" r="2.3" fill="#4a4ae8"/>
<circle cx="229.5" cy="224.0" r="2.3" fill="#2222ee"/>
<circle cx="236.1" cy="224.0" r="2.3" fill="#7474da"/>
<circle cx="241.9" cy="224.0" r="2.3" fill="#b6b8c0"/>
<circle cx="173.7" cy="228.7" r="2.3" fill="#4a4ae8"/>
<circle cx="179.0" cy="228.7" r="2.3" fill="#2222ee"/>
<circle cx="184.5" cy="228.7" r="2.3" fill="#2222ee"/>
<circle cx="190.1" cy="228.7" r="2.3" fill="#2222ee"/>
<circle cx="212.8" cy="228.7" r="2.3" fill="#2222ee"/>
<circle cx="218.6" cy="228.7" r="2.3" fill="#4a4ae8"/>
<circle cx="223.9" cy="228.7" r="2.3" fill="#4a4ae8"/>
<circle cx="229.5" cy="228.7" r="2.3" fill="#7474da"/>
<circle cx="236.1" cy="228.7" r="2.3" fill="#7474da"/>
<circle cx="241.9" cy="228.7" r="2.3" fill="#4a4ae8"/>
<circle cx="247.2" cy="228.7" r="2.3" fill="#2222ee"/>
<circle cx="253.0" cy="228.7" r="2.3" fill="#4a4ae8"/>
<circle cx="166.8" cy="233.4" r="2.3" fill="#4a4ae8"/>
<circle cx="173.7" cy="233.4" r="2.3" fill="#7474da"/>
<circle cx="179.0" cy="233.4" r="2.3" fill="#2222ee"/>
<circle cx="184.5" cy="233.4" r="2.3" fill="#7474da"/>
<circle cx="190.1" cy="233.4" r="2.3" fill="#2222ee"/>
<circle cx="195.9" cy="233.4" r="2.3" fill="#7474da"/>
<circle cx="212.8" cy="233.4" r="2.3" fill="#2222ee"/>
<circle cx="218.6" cy="233.4" r="2.3" fill="#2222ee"/>
<circle cx="223.9" cy="233.4" r="2.3" fill="#d49898"/>
<circle cx="229.5" cy="233.4" r="2.3" fill="#b6b8c0"/>
<circle cx="236.1" cy="233.4" r="2.3" fill="#7474da"/>
<circle cx="241.9" cy="233.4" r="2.3" fill="#4a4ae8"/>
<circle cx="247.2" cy="233.4" r="2.3" fill="#4a4ae8"/>
<circle cx="253.0" cy="233.4" r="2.3" fill="#4a4ae8"/>
<circle cx="161.6" cy="238.7" r="2.3" fill="#4a4ae8"/>
<circle cx="166.8" cy="238.7" r="2.3" fill="#2222ee"/>
<circle cx="173.7" cy="238.7" r="2.3" fill="#7474da"/>
<circle cx="179.0" cy="238.7" r="2.3" fill="#b6b8c0"/>
<circle cx="184.5" cy="238.7" r="2.3" fill="#d49898"/>
<circle cx="190.1" cy="238.7" r="2.3" fill="#2222ee"/>
<circle cx="195.9" cy="238.7" r="2.3" fill="#4a4ae8"/>
<circle cx="207.0" cy="238.7" r="2.3" fill="#4a4ae8"/>
<circle cx="212.8" cy="238.7" r="2.3" fill="#7474da"/>
<circle cx="218.6" cy="238.7" r="2.3" fill="#4a4ae8"/>
<circle cx="223.9" cy="238.7" r="2.3" fill="#fa1a1a"/>
<circle cx="229.5" cy="238.7" r="2.3" fill="#fa1a1a"/>
<circle cx="236.1" cy="238.7" r="2.3" fill="#4a4ae8"/>
<circle cx="241.9" cy="238.7" r="2.3" fill="#4a4ae8"/>
<circle cx="247.2" cy="238.7" r="2.3" fill="#4a4ae8"/>
<circle cx="253.0" cy="238.7" r="2.3" fill="#4a4ae8"/>
<circle cx="258.3" cy="238.7" r="2.3" fill="#2222ee"/>
<circle cx="155.8" cy="243.7" r="2.3" fill="#2222ee"/>
<circle cx="161.6" cy="243.7" r="2.3" fill="#b6b8c0"/>
<circle cx="166.8" cy="243.7" r="2.3" fill="#4a4ae8"/>
<circle cx="173.7" cy="243.7" r="2.3" fill="#e06a6a"/>
<circle cx="179.0" cy="243.7" r="2.3" fill="#fa1a1a"/>
<circle cx="184.5" cy="243.7" r="2.3" fill="#fa1a1a"/>
<circle cx="190.1" cy="243.7" r="2.3" fill="#4a4ae8"/>
<circle cx="195.9" cy="243.7" r="2.3" fill="#2222ee"/>
<circle cx="201.2" cy="243.7" r="2.3" fill="#4a4ae8"/>
<circle cx="212.8" cy="243.7" r="2.3" fill="#4a4ae8"/>
<circle cx="218.6" cy="243.7" r="2.3" fill="#7474da"/>
<circle cx="223.9" cy="243.7" r="2.3" fill="#fa1a1a"/>
<circle cx="229.5" cy="243.7" r="2.3" fill="#fa1a1a"/>
<circle cx="236.1" cy="243.7" r="2.3" fill="#fa1a1a"/>
<circle cx="241.9" cy="243.7" r="2.3" fill="#e06a6a"/>
<circle cx="247.2" cy="243.7" r="2.3" fill="#4a4ae8"/>
<circle cx="253.0" cy="243.7" r="2.3" fill="#4a4ae8"/>
<circle cx="258.3" cy="243.7" r="2.3" fill="#4a4ae8"/>
<circle cx="149.9" cy="248.7" r="2.3" fill="#7474da"/>
<circle cx="155.8" cy="248.7" r="2.3" fill="#4a4ae8"/>
<circle cx="161.6" cy="248.7" r="2.3" fill="#4a4ae8"/>
<circle cx="166.8" cy="248.7" r="2.3" fill="#b6b8c0"/>
<circle cx="173.7" cy="248.7" r="2.3" fill="#e06a6a"/>
<circle cx="179.0" cy="248.7" r="2.3" fill="#e06a6a"/>
<circle cx="184.5" cy="248.7" r="2.3" fill="#d49898"/>
<circle cx="190.1" cy="248.7" r="2.3" fill="#4a4ae8"/>
<circle cx="195.9" cy="248.7" r="2.3" fill="#2222ee"/>
<circle cx="201.2" cy="248.7" r="2.3" fill="#4a4ae8"/>
<circle cx="207.0" cy="248.7" r="2.3" fill="#2222ee"/>
<circle cx="212.8" cy="248.7" r="2.3" fill="#4a4ae8"/>
<circle cx="218.6" cy="248.7" r="2.3" fill="#4a4ae8"/>
<circle cx="223.9" cy="248.7" r="2.3" fill="#e06a6a"/>
<circle cx="229.5" cy="248.7" r="2.3" fill="#e06a6a"/>
<circle cx="236.1" cy="248.7" r="2.3" fill="#fa1a1a"/>
<circle cx="241.9" cy="248.7" r="2.3" fill="#d49898"/>
<circle cx="247.2" cy="248.7" r="2.3" fill="#2222ee"/>
<circle cx="253.0" cy="248.7" r="2.3" fill="#7474da"/>
<circle cx="258.3" cy="248.7" r="2.3" fill="#2222ee"/>
<circle cx="263.8" cy="248.7" r="2.3" fill="#4a4ae8"/>
<circle cx="149.9" cy="253.7" r="2.3" fill="#2222ee"/>
<circle cx="155.8" cy="253.7" r="2.3" fill="#4a4ae8"/>
<circle cx="161.6" cy="253.7" r="2.3" fill="#4a4ae8"/>
<circle cx="166.8" cy="253.7" r="2.3" fill="#e06a6a"/>
<circle cx="173.7" cy="253.7" r="2.3" fill="#fa1a1a"/>
<circle cx="179.0" cy="253.7" r="2.3" fill="#4a4ae8"/>
<circle cx="184.5" cy="253.7" r="2.3" fill="#fa1a1a"/>
<circle cx="190.1" cy="253.7" r="2.3" fill="#4a4ae8"/>
<circle cx="195.9" cy="253.7" r="2.3" fill="#4a4ae8"/>
<circle cx="201.2" cy="253.7" r="2.3" fill="#4a4ae8"/>
<circle cx="207.0" cy="253.7" r="2.3" fill="#2222ee"/>
<circle cx="212.8" cy="253.7" r="2.3" fill="#4a4ae8"/>
<circle cx="218.6" cy="253.7" r="2.3" fill="#2222ee"/>
<circle cx="223.9" cy="253.7" r="2.3" fill="#7474da"/>
<circle cx="229.5" cy="253.7" r="2.3" fill="#fa1a1a"/>
<circle cx="236.1" cy="253.7" r="2.3" fill="#fa1a1a"/>
<circle cx="241.9" cy="253.7" r="2.3" fill="#4a4ae8"/>
<circle cx="247.2" cy="253.7" r="2.3" fill="#d49898"/>
<circle cx="253.0" cy="253.7" r="2.3" fill="#2222ee"/>
<circle cx="258.3" cy="253.7" r="2.3" fill="#4a4ae8"/>
<circle cx="263.8" cy="253.7" r="2.3" fill="#2222ee"/>
<circle cx="149.9" cy="258.7" r="2.3" fill="#b6b8c0"/>
<circle cx="155.8" cy="258.7" r="2.3" fill="#4a4ae8"/>
<circle cx="161.6" cy="258.7" r="2.3" fill="#4a4ae8"/>
<circle cx="173.7" cy="258.7" r="2.3" fill="#fa1a1a"/>
<circle cx="179.0" cy="258.7" r="2.3" fill="#7474da"/>
<circle cx="184.5" cy="258.7" r="2.3" fill="#fa1a1a"/>
<circle cx="190.1" cy="258.7" r="2.3" fill="#4a4ae8"/>
<circle cx="195.9" cy="258.7" r="2.3" fill="#7474da"/>
<circle cx="201.2" cy="258.7" r="2.3" fill="#4a4ae8"/>
<circle cx="207.0" cy="258.7" r="2.3" fill="#2222ee"/>
<circle cx="212.8" cy="258.7" r="2.3" fill="#4a4ae8"/>
<circle cx="218.6" cy="258.7" r="2.3" fill="#4a4ae8"/>
<circle cx="223.9" cy="258.7" r="2.3" fill="#7474da"/>
<circle cx="229.5" cy="258.7" r="2.3" fill="#fa1a1a"/>
<circle cx="236.1" cy="258.7" r="2.3" fill="#b6b8c0"/>
<circle cx="241.9" cy="258.7" r="2.3" fill="#2222ee"/>
<circle cx="247.2" cy="258.7" r="2.3" fill="#4a4ae8"/>
<circle cx="253.0" cy="258.7" r="2.3" fill="#4a4ae8"/>
<circle cx="258.3" cy="258.7" r="2.3" fill="#2222ee"/>
<circle cx="263.8" cy="258.7" r="2.3" fill="#4a4ae8"/>
<circle cx="149.9" cy="264.0" r="2.3" fill="#d49898"/>
<circle cx="155.8" cy="264.0" r="2.3" fill="#4a4ae8"/>
<circle cx="161.6" cy="264.0" r="2.3" fill="#4a4ae8"/>
<circle cx="166.8" cy="264.0" r="2.3" fill="#4a4ae8"/>
<circle cx="173.7" cy="264.0" r="2.3" fill="#fa1a1a"/>
<circle cx="179.0" cy="264.0" r="2.3" fill="#fa1a1a"/>
<circle cx="184.5" cy="264.0" r="2.3" fill="#d49898"/>
<circle cx="190.1" cy="264.0" r="2.3" fill="#4a4ae8"/>
<circle cx="195.9" cy="264.0" r="2.3" fill="#2222ee"/>
<circle cx="201.2" cy="264.0" r="2.3" fill="#4a4ae8"/>
<circle cx="207.0" cy="264.0" r="2.3" fill="#2222ee"/>
<circle cx="212.8" cy="264.0" r="2.3" fill="#b6b8c0"/>
<circle cx="218.6" cy="264.0" r="2.3" fill="#4a4ae8"/>
<circle cx="223.9" cy="264.0" r="2.3" fill="#7474da"/>
<circle cx="229.5" cy="264.0" r="2.3" fill="#fa1a1a"/>
<circle cx="236.1" cy="264.0" r="2.3" fill="#4a4ae8"/>
<circle cx="241.9" cy="264.0" r="2.3" fill="#7474da"/>
<circle cx="247.2" cy="264.0" r="2.3" fill="#4a4ae8"/>
<circle cx="253.0" cy="264.0" r="2.3" fill="#4a4ae8"/>
<circle cx="258.3" cy="264.0" r="2.3" fill="#2222ee"/>
<circle cx="263.8" cy="264.0" r="2.3" fill="#2222ee"/>
<circle cx="149.9" cy="269.0" r="2.3" fill="#4a4ae8"/>
<circle cx="155.8" cy="269.0" r="2.3" fill="#2222ee"/>
<circle cx="161.6" cy="269.0" r="2.3" fill="#4a4ae8"/>
<circle cx="166.8" cy="269.0" r="2.3" fill="#2222ee"/>
<circle cx="173.7" cy="269.0" r="2.3" fill="#4a4ae8"/>
<circle cx="179.0" cy="269.0" r="2.3" fill="#e06a6a"/>
<circle cx="184.5" cy="269.0" r="2.3" fill="#fa1a1a"/>
<circle cx="190.1" cy="269.0" r="2.3" fill="#d49898"/>
<circle cx="195.9" cy="269.0" r="2.3" fill="#7474da"/>
<circle cx="201.2" cy="269.0" r="2.3" fill="#4a4ae8"/>
<circle cx="207.0" cy="269.0" r="2.3" fill="#7474da"/>
<circle cx="212.8" cy="269.0" r="2.3" fill="#7474da"/>
<circle cx="218.6" cy="269.0" r="2.3" fill="#2222ee"/>
<circle cx="223.9" cy="269.0" r="2.3" fill="#4a4ae8"/>
<circle cx="229.5" cy="269.0" r="2.3" fill="#fa1a1a"/>
<circle cx="236.1" cy="269.0" r="2.3" fill="#7474da"/>
<circle cx="241.9" cy="269.0" r="2.3" fill="#d49898"/>
<circle cx="247.2" cy="269.0" r="2.3" fill="#4a4ae8"/>
<circle cx="253.0" cy="269.0" r="2.3" fill="#2222ee"/>
<circle cx="258.3" cy="269.0" r="2.3" fill="#4a4ae8"/>
<circle cx="263.8" cy="269.0" r="2.3" fill="#2222ee"/>
<circle cx="149.9" cy="274.0" r="2.3" fill="#4a4ae8"/>
<circle cx="155.8" cy="274.0" r="2.3" fill="#2222ee"/>
<circle cx="161.6" cy="274.0" r="2.3" fill="#2222ee"/>
<circle cx="166.8" cy="274.0" r="2.3" fill="#4a4ae8"/>
<circle cx="173.7" cy="274.0" r="2.3" fill="#2222ee"/>
<circle cx="179.0" cy="274.0" r="2.3" fill="#4a4ae8"/>
<circle cx="184.5" cy="274.0" r="2.3" fill="#e06a6a"/>
<circle cx="190.1" cy="274.0" r="2.3" fill="#e06a6a"/>
<circle cx="195.9" cy="274.0" r="2.3" fill="#4a4ae8"/>
<circle cx="207.0" cy="274.0" r="2.3" fill="#2222ee"/>
<circle cx="212.8" cy="274.0" r="2.3" fill="#4a4ae8"/>
<circle cx="218.6" cy="274.0" r="2.3" fill="#2222ee"/>
<circle cx="223.9" cy="274.0" r="2.3" fill="#4a4ae8"/>
<circle cx="229.5" cy="274.0" r="2.3" fill="#fa1a1a"/>
<circle cx="236.1" cy="274.0" r="2.3" fill="#b6b8c0"/>
<circle cx="241.9" cy="274.0" r="2.3" fill="#4a4ae8"/>
<circle cx="247.2" cy="274.0" r="2.3" fill="#4a4ae8"/>
<circle cx="253.0" cy="274.0" r="2.3" fill="#7474da"/>
<circle cx="258.3" cy="274.0" r="2.3" fill="#2222ee"/>
<circle cx="263.8" cy="274.0" r="2.3" fill="#4a4ae8"/>
<circle cx="155.8" cy="279.0" r="2.3" fill="#2222ee"/>
<circle cx="161.6" cy="279.0" r="2.3" fill="#2222ee"/>
<circle cx="166.8" cy="279.0" r="2.3" fill="#4a4ae8"/>
<circle cx="173.7" cy="279.0" r="2.3" fill="#4a4ae8"/>
<circle cx="179.0" cy="279.0" r="2.3" fill="#2222ee"/>
<circle cx="184.5" cy="279.0" r="2.3" fill="#b6b8c0"/>
<circle cx="190.1" cy="279.0" r="2.3" fill="#e06a6a"/>
<circle cx="195.9" cy="279.0" r="2.3" fill="#b6b8c0"/>
<circle cx="201.2" cy="279.0" r="2.3" fill="#2222ee"/>
<circle cx="207.0" cy="279.0" r="2.3" fill="#2222ee"/>
<circle cx="212.8" cy="279.0" r="2.3" fill="#7474da"/>
<circle cx="218.6" cy="279.0" r="2.3" fill="#4a4ae8"/>
<circle cx="223.9" cy="279.0" r="2.3" fill="#2222ee"/>
<circle cx="229.5" cy="279.0" r="2.3" fill="#e06a6a"/>
<circle cx="236.1" cy="279.0" r="2.3" fill="#7474da"/>
<circle cx="241.9" cy="279.0" r="2.3" fill="#7474da"/>
<circle cx="247.2" cy="279.0" r="2.3" fill="#2222ee"/>
<circle cx="253.0" cy="279.0" r="2.3" fill="#4a4ae8"/>
<circle cx="258.3" cy="279.0" r="2.3" fill="#b6b8c0"/>
<circle cx="155.8" cy="284.0" r="2.3" fill="#4a4ae8"/>
<circle cx="161.6" cy="284.0" r="2.3" fill="#4a4ae8"/>
<circle cx="166.8" cy="284.0" r="2.3" fill="#4a4ae8"/>
<circle cx="173.7" cy="284.0" r="2.3" fill="#2222ee"/>
<circle cx="179.0" cy="284.0" r="2.3" fill="#7474da"/>
<circle cx="184.5" cy="284.0" r="2.3" fill="#b6b8c0"/>
<circle cx="190.1" cy="284.0" r="2.3" fill="#fa1a1a"/>
<circle cx="195.9" cy="284.0" r="2.3" fill="#e06a6a"/>
<circle cx="201.2" cy="284.0" r="2.3" fill="#2222ee"/>
<circle cx="207.0" cy="284.0" r="2.3" fill="#4a4ae8"/>
<circle cx="212.8" cy="284.0" r="2.3" fill="#4a4ae8"/>
<circle cx="218.6" cy="284.0" r="2.3" fill="#2222ee"/>
<circle cx="223.9" cy="284.0" r="2.3" fill="#4a4ae8"/>
<circle cx="229.5" cy="284.0" r="2.3" fill="#4a4ae8"/>
<circle cx="236.1" cy="284.0" r="2.3" fill="#4a4ae8"/>
<circle cx="247.2" cy="284.0" r="2.3" fill="#4a4ae8"/>
<circle cx="253.0" cy="284.0" r="2.3" fill="#4a4ae8"/>
<circle cx="155.8" cy="289.0" r="2.3" fill="#b6b8c0"/>
<circle cx="161.6" cy="289.0" r="2.3" fill="#4a4ae8"/>
<circle cx="166.8" cy="289.0" r="2.3" fill="#4a4ae8"/>
<circle cx="173.7" cy="289.0" r="2.3" fill="#4a4ae8"/>
<circle cx="179.0" cy="289.0" r="2.3" fill="#2222ee"/>
<circle cx="184.5" cy="289.0" r="2.3" fill="#2222ee"/>
<circle cx="190.1" cy="289.0" r="2.3" fill="#d49898"/>
<circle cx="195.9" cy="289.0" r="2.3" fill="#e06a6a"/>
<circle cx="201.2" cy="289.0" r="2.3" fill="#2222ee"/>
<circle cx="207.0" cy="289.0" r="2.3" fill="#4a4ae8"/>
<circle cx="212.8" cy="289.0" r="2.3" fill="#7474da"/>
<circle cx="218.6" cy="289.0" r="2.3" fill="#7474da"/>
<circle cx="223.9" cy="289.0" r="2.3" fill="#2222ee"/>
<circle cx="229.5" cy="289.0" r="2.3" fill="#2222ee"/>
<circle cx="236.1" cy="289.0" r="2.3" fill="#2222ee"/>
<circle cx="241.9" cy="289.0" r="2.3" fill="#4a4ae8"/>
<circle cx="247.2" cy="289.0" r="2.3" fill="#4a4ae8"/>
<circle cx="155.8" cy="294.2" r="2.3" fill="#2222ee"/>
<circle cx="161.6" cy="294.2" r="2.3" fill="#4a4ae8"/>
<circle cx="166.8" cy="294.2" r="2.3" fill="#4a4ae8"/>
<circle cx="173.7" cy="294.2" r="2.3" fill="#2222ee"/>
<circle cx="179.0" cy="294.2" r="2.3" fill="#7474da"/>
<circle cx="184.5" cy="294.2" r="2.3" fill="#4a4ae8"/>
<circle cx="190.1" cy="294.2" r="2.3" fill="#4a4ae8"/>
<circle cx="195.9" cy="294.2" r="2.3" fill="#4a4ae8"/>
<circle cx="201.2" cy="294.2" r="2.3" fill="#4a4ae8"/>
<circle cx="207.0" cy="294.2" r="2.3" fill="#4a4ae8"/>
<circle cx="161.6" cy="299.2" r="2.3" fill="#7474da"/>
<circle cx="166.8" cy="299.2" r="2.3" fill="#2222ee"/>
<circle cx="173.7" cy="299.2" r="2.3" fill="#7474da"/>
<circle cx="184.5" cy="299.2" r="2.3" fill="#4a4ae8"/>
<circle cx="190.1" cy="299.2" r="2.3" fill="#4a4ae8"/>
<circle cx="195.9" cy="299.2" r="2.3" fill="#2222ee"/>
<circle cx="201.2" cy="299.2" r="2.3" fill="#4a4ae8"/>
<text x="190.2" y="214.8" font-size="12.7" font-style="italic">Nrgn</text>
<rect x="145.5" y="220.9" width="122.9" height="81.5" fill="none" stroke="#000" stroke-width="1.4"/>
<circle cx="83.3" cy="329.7" r="2.3" fill="#7474da"/>
<circle cx="88.6" cy="329.7" r="2.3" fill="#4a4ae8"/>
<circle cx="94.2" cy="329.7" r="2.3" fill="#4a4ae8"/>
<circle cx="100.8" cy="329.7" r="2.3" fill="#2222ee"/>
<circle cx="106.6" cy="329.7" r="2.3" fill="#4a4ae8"/>
<circle cx="38.4" cy="334.4" r="2.3" fill="#2222ee"/>
<circle cx="43.7" cy="334.4" r="2.3" fill="#7474da"/>
<circle cx="49.2" cy="334.4" r="2.3" fill="#2222ee"/>
<circle cx="54.8" cy="334.4" r="2.3" fill="#2222ee"/>
<circle cx="77.5" cy="334.4" r="2.3" fill="#2222ee"/>
<circle cx="83.3" cy="334.4" r="2.3" fill="#4a4ae8"/>
<circle cx="88.6" cy="334.4" r="2.3" fill="#4a4ae8"/>
<circle cx="94.2" cy="334.4" r="2.3" fill="#4a4ae8"/>
<circle cx="100.8" cy="334.4" r="2.3" fill="#2222ee"/>
<circle cx="106.6" cy="334.4" r="2.3" fill="#2222ee"/>
<circle cx="111.9" cy="334.4" r="2.3" fill="#4a4ae8"/>
<circle cx="117.7" cy="334.4" r="2.3" fill="#7474da"/>
<circle cx="31.5" cy="339.1" r="2.3" fill="#2222ee"/>
<circle cx="38.4" cy="339.1" r="2.3" fill="#2222ee"/>
<circle cx="43.7" cy="339.1" r="2.3" fill="#2222ee"/>
<circle cx="49.2" cy="339.1" r="2.3" fill="#2222ee"/>
<circle cx="54.8" cy="339.1" r="2.3" fill="#2222ee"/>
<circle cx="60.6" cy="339.1" r="2.3" fill="#7474da"/>
<circle cx="77.5" cy="339.1" r="2.3" fill="#4a4ae8"/>
<circle cx="83.3" cy="339.1" r="2.3" fill="#4a4ae8"/>
<circle cx="88.6" cy="339.1" r="2.3" fill="#4a4ae8"/>
<circle cx="94.2" cy="339.1" r="2.3" fill="#4a4ae8"/>
<circle cx="100.8" cy="339.1" r="2.3" fill="#4a4ae8"/>
<circle cx="106.6" cy="339.1" r="2.3" fill="#4a4ae8"/>
<circle cx="111.9" cy="339.1" r="2.3" fill="#4a4ae8"/>
<circle cx="117.7" cy="339.1" r="2.3" fill="#4a4ae8"/>
<circle cx="26.3" cy="344.4" r="2.3" fill="#4a4ae8"/>
<circle cx="31.5" cy="344.4" r="2.3" fill="#4a4ae8"/>
<circle cx="38.4" cy="344.4" r="2.3" fill="#4a4ae8"/>
<circle cx="43.7" cy="344.4" r="2.3" fill="#2222ee"/>
<circle cx="49.2" cy="344.4" r="2.3" fill="#4a4ae8"/>
<circle cx="54.8" cy="344.4" r="2.3" fill="#4a4ae8"/>
<circle cx="60.6" cy="344.4" r="2.3" fill="#2222ee"/>
<circle cx="71.7" cy="344.4" r="2.3" fill="#7474da"/>
<circle cx="77.5" cy="344.4" r="2.3" fill="#2222ee"/>
<circle cx="83.3" cy="344.4" r="2.3" fill="#4a4ae8"/>
<circle cx="88.6" cy="344.4" r="2.3" fill="#7474da"/>
<circle cx="94.2" cy="344.4" r="2.3" fill="#4a4ae8"/>
<circle cx="100.8" cy="344.4" r="2.3" fill="#4a4ae8"/>
<circle cx="106.6" cy="344.4" r="2.3" fill="#4a4ae8"/>
<circle cx="111.9" cy="344.4" r="2.3" fill="#4a4ae8"/>
<circle cx="117.7" cy="344.4" r="2.3" fill="#4a4ae8"/>
<circle cx="123.0" cy="344.4" r="2.3" fill="#7474da"/>
<circle cx="20.5" cy="349.4" r="2.3" fill="#2222ee"/>
<circle cx="26.3" cy="349.4" r="2.3" fill="#4a4ae8"/>
<circle cx="31.5" cy="349.4" r="2.3" fill="#2222ee"/>
<circle cx="38.4" cy="349.4" r="2.3" fill="#4a4ae8"/>
<circle cx="43.7" cy="349.4" r="2.3" fill="#2222ee"/>
<circle cx="49.2" cy="349.4" r="2.3" fill="#4a4ae8"/>
<circle cx="54.8" cy="349.4" r="2.3" fill="#4a4ae8"/>
<circle cx="60.6" cy="349.4" r="2.3" fill="#4a4ae8"/>
<circle cx="65.9" cy="349.4" r="2.3" fill="#4a4ae8"/>
<circle cx="77.5" cy="349.4" r="2.3" fill="#4a4ae8"/>
<circle cx="83.3" cy="349.4" r="2.3" fill="#2222ee"/>
<circle cx="88.6" cy="349.4" r="2.3" fill="#4a4ae8"/>
<circle cx="94.2" cy="349.4" r="2.3" fill="#2222ee"/>
<circle cx="100.8" cy="349.4" r="2.3" fill="#4a4ae8"/>
<circle cx="106.6" cy="349.4" r="2.3" fill="#2222ee"/>
<circle cx="111.9" cy="349.4" r="2.3" fill="#4a4ae8"/>
<circle cx="117.7" cy="349.4" r="2.3" fill="#4a4ae8"/>
<circle cx="123.0" cy="349.4" r="2.3" fill="#4a4ae8"/>
<circle cx="14.6" cy="354.4" r="2.3" fill="#7474da"/>
<circle cx="20.5" cy="354.4" r="2.3" fill="#2222ee"/>
<circle cx="26.3" cy="354.4" r="2.3" fill="#4a4ae8"/>
<circle cx="31.5" cy="354.4" r="2.3" fill="#4a4ae8"/>
<circle cx="38.4" cy="354.4" r="2.3" fill="#2222ee"/>
<circle cx="43.7" cy="354.4" r="2.3" fill="#4a4ae8"/>
<circle cx="49.2" cy="354.4" r="2.3" fill="#4a4ae8"/>
<circle cx="54.8" cy="354.4" r="2.3" fill="#4a4ae8"/>
<circle cx="60.6" cy="354.4" r="2.3" fill="#2222ee"/>
<circle cx="65.9" cy="354.4" r="2.3" fill="#4a4ae8"/>
<circle cx="71.7" cy="354.4" r="2.3" fill="#d49898"/>
<circle cx="77.5" cy="354.4" r="2.3" fill="#2222ee"/>
<circle cx="83.3" cy="354.4" r="2.3" fill="#2222ee"/>
<circle cx="88.6" cy="354.4" r="2.3" fill="#4a4ae8"/>
<circle cx="94.2" cy="354.4" r="2.3" fill="#4a4ae8"/>
<circle cx="100.8" cy="354.4" r="2.3" fill="#b6b8c0"/>
<circle cx="106.6" cy="354.4" r="2.3" fill="#2222ee"/>
<circle cx="111.9" cy="354.4" r="2.3" fill="#4a4ae8"/>
<circle cx="117.7" cy="354.4" r="2.3" fill="#4a4ae8"/>
<circle cx="123.0" cy="354.4" r="2.3" fill="#4a4ae8"/>
<circle cx="128.5" cy="354.4" r="2.3" fill="#e06a6a"/>
<circle cx="14.6" cy="359.4" r="2.3" fill="#4a4ae8"/>
<circle cx="20.5" cy="359.4" r="2.3" fill="#2222ee"/>
<circle cx="26.3" cy="359.4" r="2.3" fill="#4a4ae8"/>
<circle cx="31.5" cy="359.4" r="2.3" fill="#2222ee"/>
<circle cx="38.4" cy="359.4" r="2.3" fill="#2222ee"/>
<circle cx="43.7" cy="359.4" r="2.3" fill="#2222ee"/>
<circle cx="49.2" cy="359.4" r="2.3" fill="#4a4ae8"/>
<circle cx="54.8" cy="359.4" r="2.3" fill="#4a4ae8"/>
<circle cx="60.6" cy="359.4" r="2.3" fill="#2222ee"/>
<circle cx="65.9" cy="359.4" r="2.3" fill="#7474da"/>
<circle cx="71.7" cy="359.4" r="2.3" fill="#b6b8c0"/>
<circle cx="77.5" cy="359.4" r="2.3" fill="#7474da"/>
<circle cx="83.3" cy="359.4" r="2.3" fill="#4a4ae8"/>
<circle cx="88.6" cy="359.4" r="2.3" fill="#4a4ae8"/>
<circle cx="94.2" cy="359.4" r="2.3" fill="#7474da"/>
<circle cx="100.8" cy="359.4" r="2.3" fill="#4a4ae8"/>
<circle cx="106.6" cy="359.4" r="2.3" fill="#2222ee"/>
<circle cx="111.9" cy="359.4" r="2.3" fill="#4a4ae8"/>
<circle cx="117.7" cy="359.4" r="2.3" fill="#4a4ae8"/>
<circle cx="123.0" cy="359.4" r="2.3" fill="#2222ee"/>
<circle cx="128.5" cy="359.4" r="2.3" fill="#4a4ae8"/>
<circle cx="14.6" cy="364.4" r="2.3" fill="#7474da"/>
<circle cx="20.5" cy="364.4" r="2.3" fill="#4a4ae8"/>
<circle cx="26.3" cy="364.4" r="2.3" fill="#2222ee"/>
<circle cx="38.4" cy="364.4" r="2.3" fill="#2222ee"/>
<circle cx="43.7" cy="364.4" r="2.3" fill="#4a4ae8"/>
<circle cx="49.2" cy="364.4" r="2.3" fill="#4a4ae8"/>
<circle cx="54.8" cy="364.4" r="2.3" fill="#4a4ae8"/>
<circle cx="60.6" cy="364.4" r="2.3" fill="#4a4ae8"/>
<circle cx="65.9" cy="364.4" r="2.3" fill="#4a4ae8"/>
<circle cx="71.7" cy="364.4" r="2.3" fill="#b6b8c0"/>
<circle cx="77.5" cy="364.4" r="2.3" fill="#2222ee"/>
<circle cx="83.3" cy="364.4" r="2.3" fill="#7474da"/>
<circle cx="88.6" cy="364.4" r="2.3" fill="#4a4ae8"/>
<circle cx="94.2" cy="364.4" r="2.3" fill="#4a4ae8"/>
<circle cx="100.8" cy="364.4" r="2.3" fill="#2222ee"/>
<circle cx="106.6" cy="364.4" r="2.3" fill="#2222ee"/>
<circle cx="111.9" cy="364.4" r="2.3" fill="#4a4ae8"/>
<circle cx="117.7" cy="364.4" r="2.3" fill="#4a4ae8"/>
<circle cx="123.0" cy="364.4" r="2.3" fill="#d49898"/>
<circle cx="128.5" cy="364.4" r="2.3" fill="#b6b8c0"/>
<circle cx="14.6" cy="369.7" r="2.3" fill="#7474da"/>
<circle cx="20.5" cy="369.7" r="2.3" fill="#2222ee"/>
<circle cx="26.3" cy="369.7" r="2.3" fill="#4a4ae8"/>
<circle cx="31.5" cy="369.7" r="2.3" fill="#2222ee"/>
<circle cx="38.4" cy="369.7" r="2.3" fill="#4a4ae8"/>
<circle cx="43.7" cy="369.7" r="2.3" fill="#4a4ae8"/>
<circle cx="49.2" cy="369.7" r="2.3" fill="#b6b8c0"/>
<circle cx="54.8" cy="369.7" r="2.3" fill="#2222ee"/>
<circle cx="60.6" cy="369.7" r="2.3" fill="#4a4ae8"/>
<circle cx="65.9" cy="369.7" r="2.3" fill="#7474da"/>
<circle cx="71.7" cy="369.7" r="2.3" fill="#2222ee"/>
<circle cx="77.5" cy="369.7" r="2.3" fill="#7474da"/>
<circle cx="83.3" cy="369.7" r="2.3" fill="#4a4ae8"/>
<circle cx="88.6" cy="369.7" r="2.3" fill="#4a4ae8"/>
<circle cx="94.2" cy="369.7" r="2.3" fill="#4a4ae8"/>
<circle cx="100.8" cy="369.7" r="2.3" fill="#2222ee"/>
<circle cx="106.6" cy="369.7" r="2.3" fill="#2222ee"/>
<circle cx="111.9" cy="369.7" r="2.3" fill="#4a4ae8"/>
<circle cx="117.7" cy="369.7" r="2.3" fill="#e06a6a"/>
<circle cx="123.0" cy="369.7" r="2.3" fill="#fa1a1a"/>
<circle cx="128.5" cy="369.7" r="2.3" fill="#fa1a1a"/>
<circle cx="14.6" cy="374.7" r="2.3" fill="#7474da"/>
<circle cx="20.5" cy="374.7" r="2.3" fill="#4a4ae8"/>
<circle cx="26.3" cy="374.7" r="2.3" fill="#4a4ae8"/>
<circle cx="31.5" cy="374.7" r="2.3" fill="#4a4ae8"/>
<circle cx="38.4" cy="374.7" r="2.3" fill="#2222ee"/>
<circle cx="43.7" cy="374.7" r="2.3" fill="#4a4ae8"/>
<circle cx="49.2" cy="374.7" r="2.3" fill="#2222ee"/>
<circle cx="54.8" cy="374.7" r="2.3" fill="#4a4ae8"/>
<circle cx="60.6" cy="374.7" r="2.3" fill="#2222ee"/>
<circle cx="65.9" cy="374.7" r="2.3" fill="#4a4ae8"/>
<circle cx="71.7" cy="374.7" r="2.3" fill="#d49898"/>
<circle cx="77.5" cy="374.7" r="2.3" fill="#e06a6a"/>
<circle cx="83.3" cy="374.7" r="2.3" fill="#4a4ae8"/>
<circle cx="88.6" cy="374.7" r="2.3" fill="#4a4ae8"/>
<circle cx="94.2" cy="374.7" r="2.3" fill="#4a4ae8"/>
<circle cx="100.8" cy="374.7" r="2.3" fill="#2222ee"/>
<circle cx="106.6" cy="374.7" r="2.3" fill="#4a4ae8"/>
<circle cx="111.9" cy="374.7" r="2.3" fill="#7474da"/>
<circle cx="117.7" cy="374.7" r="2.3" fill="#fa1a1a"/>
<circle cx="123.0" cy="374.7" r="2.3" fill="#fa1a1a"/>
<circle cx="128.5" cy="374.7" r="2.3" fill="#fa1a1a"/>
<circle cx="14.6" cy="379.7" r="2.3" fill="#2222ee"/>
<circle cx="20.5" cy="379.7" r="2.3" fill="#b6b8c0"/>
<circle cx="26.3" cy="379.7" r="2.3" fill="#4a4ae8"/>
<circle cx="31.5" cy="379.7" r="2.3" fill="#7474da"/>
<circle cx="38.4" cy="379.7" r="2.3" fill="#2222ee"/>
<circle cx="43.7" cy="379.7" r="2.3" fill="#4a4ae8"/>
<circle cx="49.2" cy="379.7" r="2.3" fill="#4a4ae8"/>
<circle cx="54.8" cy="379.7" r="2.3" fill="#4a4ae8"/>
<circle cx="60.6" cy="379.7" r="2.3" fill="#2222ee"/>
<circle cx="71.7" cy="379.7" r="2.3" fill="#e06a6a"/>
<circle cx="77.5" cy="379.7" r="2.3" fill="#fa1a1a"/>
<circle cx="83.3" cy="379.7" r="2.3" fill="#7474da"/>
<circle cx="88.6" cy="379.7" r="2.3" fill="#2222ee"/>
<circle cx="94.2" cy="379.7" r="2.3" fill="#2222ee"/>
<circle cx="100.8" cy="379.7" r="2.3" fill="#4a4ae8"/>
<circle cx="106.6" cy="379.7" r="2.3" fill="#4a4ae8"/>
<circle cx="111.9" cy="379.7" r="2.3" fill="#7474da"/>
<circle cx="117.7" cy="379.7" r="2.3" fill="#fa1a1a"/>
<circle cx="123.0" cy="379.7" r="2.3" fill="#fa1a1a"/>
<circle cx="128.5" cy="379.7" r="2.3" fill="#fa1a1a"/>
<circle cx="20.5" cy="384.7" r="2.3" fill="#7474da"/>
<circle cx="26.3" cy="384.7" r="2.3" fill="#2222ee"/>
<circle cx="31.5" cy="384.7" r="2.3" fill="#7474da"/>
<circle cx="38.4" cy="384.7" r="2.3" fill="#2222ee"/>
<circle cx="43.7" cy="384.7" r="2.3" fill="#4a4ae8"/>
<circle cx="49.2" cy="384.7" r="2.3" fill="#4a4ae8"/>
<circle cx="54.8" cy="384.7" r="2.3" fill="#4a4ae8"/>
<circle cx="60.6" cy="384.7" r="2.3" fill="#4a4ae8"/>
<circle cx="65.9" cy="384.7" r="2.3" fill="#2222ee"/>
<circle cx="71.7" cy="384.7" r="2.3" fill="#e06a6a"/>
<circle cx="77.5" cy="384.7" r="2.3" fill="#fa1a1a"/>
<circle cx="83.3" cy="384.7" r="2.3" fill="#2222ee"/>
<circle cx="88.6" cy="384.7" r="2.3" fill="#2222ee"/>
<circle cx="94.2" cy="384.7" r="2.3" fill="#4a4ae8"/>
<circle cx="100.8" cy="384.7" r="2.3" fill="#7474da"/>
<circle cx="106.6" cy="384.7" r="2.3" fill="#4a4ae8"/>
<circle cx="111.9" cy="384.7" r="2.3" fill="#7474da"/>
<circle cx="117.7" cy="384.7" r="2.3" fill="#fa1a1a"/>
<circle cx="123.0" cy="384.7" r="2.3" fill="#fa1a1a"/>
<circle cx="20.5" cy="389.7" r="2.3" fill="#fa1a1a"/>
<circle cx="26.3" cy="389.7" r="2.3" fill="#e06a6a"/>
<circle cx="31.5" cy="389.7" r="2.3" fill="#7474da"/>
<circle cx="38.4" cy="389.7" r="2.3" fill="#2222ee"/>
<circle cx="43.7" cy="389.7" r="2.3" fill="#4a4ae8"/>
<circle cx="49.2" cy="389.7" r="2.3" fill="#2222ee"/>
<circle cx="54.8" cy="389.7" r="2.3" fill="#2222ee"/>
<circle cx="60.6" cy="389.7" r="2.3" fill="#4a4ae8"/>
<circle cx="65.9" cy="389.7" r="2.3" fill="#4a4ae8"/>
<circle cx="71.7" cy="389.7" r="2.3" fill="#7474da"/>
<circle cx="77.5" cy="389.7" r="2.3" fill="#fa1a1a"/>
<circle cx="83.3" cy="389.7" r="2.3" fill="#2222ee"/>
<circle cx="88.6" cy="389.7" r="2.3" fill="#4a4ae8"/>
<circle cx="94.2" cy="389.7" r="2.3" fill="#4a4ae8"/>
<circle cx="100.8" cy="389.7" r="2.3" fill="#7474da"/>
<circle cx="111.9" cy="389.7" r="2.3" fill="#b6b8c0"/>
<circle cx="117.7" cy="389.7" r="2.3" fill="#fa1a1a"/>
<circle cx="20.5" cy="394.7" r="2.3" fill="#b6b8c0"/>
<circle cx="26.3" cy="394.7" r="2.3" fill="#fa1a1a"/>
<circle cx="31.5" cy="394.7" r="2.3" fill="#e06a6a"/>
<circle cx="38.4" cy="394.7" r="2.3" fill="#7474da"/>
<circle cx="43.7" cy="394.7" r="2.3" fill="#2222ee"/>
<circle cx="49.2" cy="394.7" r="2.3" fill="#2222ee"/>
<circle cx="54.8" cy="394.7" r="2.3" fill="#2222ee"/>
<circle cx="60.6" cy="394.7" r="2.3" fill="#2222ee"/>
<circle cx="65.9" cy="394.7" r="2.3" fill="#4a4ae8"/>
<circle cx="71.7" cy="394.7" r="2.3" fill="#7474da"/>
<circle cx="77.5" cy="394.7" r="2.3" fill="#fa1a1a"/>
<circle cx="83.3" cy="394.7" r="2.3" fill="#fa1a1a"/>
<circle cx="88.6" cy="394.7" r="2.3" fill="#7474da"/>
<circle cx="94.2" cy="394.7" r="2.3" fill="#2222ee"/>
<circle cx="100.8" cy="394.7" r="2.3" fill="#2222ee"/>
<circle cx="106.6" cy="394.7" r="2.3" fill="#4a4ae8"/>
<circle cx="111.9" cy="394.7" r="2.3" fill="#d49898"/>
<circle cx="20.5" cy="399.9" r="2.3" fill="#7474da"/>
<circle cx="26.3" cy="399.9" r="2.3" fill="#fa1a1a"/>
<circle cx="31.5" cy="399.9" r="2.3" fill="#e06a6a"/>
<circle cx="38.4" cy="399.9" r="2.3" fill="#fa1a1a"/>
<circle cx="43.7" cy="399.9" r="2.3" fill="#7474da"/>
<circle cx="49.2" cy="399.9" r="2.3" fill="#4a4ae8"/>
<circle cx="54.8" cy="399.9" r="2.3" fill="#4a4ae8"/>
<circle cx="60.6" cy="399.9" r="2.3" fill="#4a4ae8"/>
<circle cx="65.9" cy="399.9" r="2.3" fill="#4a4ae8"/>
<circle cx="71.7" cy="399.9" r="2.3" fill="#7474da"/>
<circle cx="26.3" cy="404.9" r="2.3" fill="#b6b8c0"/>
<circle cx="31.5" cy="404.9" r="2.3" fill="#4a4ae8"/>
<circle cx="38.4" cy="404.9" r="2.3" fill="#d49898"/>
<circle cx="49.2" cy="404.9" r="2.3" fill="#4a4ae8"/>
<circle cx="54.8" cy="404.9" r="2.3" fill="#4a4ae8"/>
<circle cx="60.6" cy="404.9" r="2.3" fill="#4a4ae8"/>
<circle cx="65.9" cy="404.9" r="2.3" fill="#b6b8c0"/>
<text x="54.2" y="319.5" font-size="12.7" font-style="italic">Mcf2l</text>
<rect x="10.2" y="326.6" width="122.9" height="81.5" fill="none" stroke="#000" stroke-width="1.4"/>
<circle cx="218.6" cy="329.7" r="2.3" fill="#d49898"/>
<circle cx="223.9" cy="329.7" r="2.3" fill="#4a4ae8"/>
<circle cx="229.5" cy="329.7" r="2.3" fill="#7474da"/>
<circle cx="236.1" cy="329.7" r="2.3" fill="#7474da"/>
<circle cx="241.9" cy="329.7" r="2.3" fill="#7474da"/>
<circle cx="173.7" cy="334.4" r="2.3" fill="#7474da"/>
<circle cx="179.0" cy="334.4" r="2.3" fill="#4a4ae8"/>
<circle cx="184.5" cy="334.4" r="2.3" fill="#7474da"/>
<circle cx="190.1" cy="334.4" r="2.3" fill="#7474da"/>
<circle cx="212.8" cy="334.4" r="2.3" fill="#d49898"/>
<circle cx="218.6" cy="334.4" r="2.3" fill="#d49898"/>
<circle cx="223.9" cy="334.4" r="2.3" fill="#2222ee"/>
<circle cx="229.5" cy="334.4" r="2.3" fill="#4a4ae8"/>
<circle cx="236.1" cy="334.4" r="2.3" fill="#b6b8c0"/>
<circle cx="241.9" cy="334.4" r="2.3" fill="#7474da"/>
<circle cx="247.2" cy="334.4" r="2.3" fill="#7474da"/>
<circle cx="253.0" cy="334.4" r="2.3" fill="#7474da"/>
<circle cx="166.8" cy="339.1" r="2.3" fill="#4a4ae8"/>
<circle cx="173.7" cy="339.1" r="2.3" fill="#d49898"/>
<circle cx="179.0" cy="339.1" r="2.3" fill="#4a4ae8"/>
<circle cx="184.5" cy="339.1" r="2.3" fill="#2222ee"/>
<circle cx="190.1" cy="339.1" r="2.3" fill="#7474da"/>
<circle cx="195.9" cy="339.1" r="2.3" fill="#7474da"/>
<circle cx="212.8" cy="339.1" r="2.3" fill="#7474da"/>
<circle cx="218.6" cy="339.1" r="2.3" fill="#2222ee"/>
<circle cx="223.9" cy="339.1" r="2.3" fill="#2222ee"/>
<circle cx="229.5" cy="339.1" r="2.3" fill="#2222ee"/>
<circle cx="236.1" cy="339.1" r="2.3" fill="#4a4ae8"/>
<circle cx="241.9" cy="339.1" r="2.3" fill="#b6b8c0"/>
<circle cx="247.2" cy="339.1" r="2.3" fill="#d49898"/>
<circle cx="253.0" cy="339.1" r="2.3" fill="#7474da"/>
<circle cx="161.6" cy="344.4" r="2.3" fill="#4a4ae8"/>
<circle cx="166.8" cy="344.4" r="2.3" fill="#7474da"/>
<circle cx="173.7" cy="344.4" r="2.3" fill="#4a4ae8"/>
<circle cx="179.0" cy="344.4" r="2.3" fill="#4a4ae8"/>
<circle cx="184.5" cy="344.4" r="2.3" fill="#2222ee"/>
<circle cx="190.1" cy="344.4" r="2.3" fill="#4a4ae8"/>
<circle cx="195.9" cy="344.4" r="2.3" fill="#7474da"/>
<circle cx="207.0" cy="344.4" r="2.3" fill="#b6b8c0"/>
<circle cx="212.8" cy="344.4" r="2.3" fill="#b6b8c0"/>
<circle cx="218.6" cy="344.4" r="2.3" fill="#4a4ae8"/>
<circle cx="223.9" cy="344.4" r="2.3" fill="#4a4ae8"/>
<circle cx="229.5" cy="344.4" r="2.3" fill="#4a4ae8"/>
<circle cx="236.1" cy="344.4" r="2.3" fill="#2222ee"/>
<circle cx="241.9" cy="344.4" r="2.3" fill="#4a4ae8"/>
<circle cx="247.2" cy="344.4" r="2.3" fill="#7474da"/>
<circle cx="253.0" cy="344.4" r="2.3" fill="#4a4ae8"/>
<circle cx="258.3" cy="344.4" r="2.3" fill="#d49898"/>
<circle cx="155.8" cy="349.4" r="2.3" fill="#4a4ae8"/>
<circle cx="161.6" cy="349.4" r="2.3" fill="#d49898"/>
<circle cx="166.8" cy="349.4" r="2.3" fill="#4a4ae8"/>
<circle cx="173.7" cy="349.4" r="2.3" fill="#4a4ae8"/>
<circle cx="179.0" cy="349.4" r="2.3" fill="#4a4ae8"/>
<circle cx="184.5" cy="349.4" r="2.3" fill="#4a4ae8"/>
<circle cx="190.1" cy="349.4" r="2.3" fill="#4a4ae8"/>
<circle cx="195.9" cy="349.4" r="2.3" fill="#7474da"/>
<circle cx="201.2" cy="349.4" r="2.3" fill="#d49898"/>
<circle cx="212.8" cy="349.4" r="2.3" fill="#d49898"/>
<circle cx="218.6" cy="349.4" r="2.3" fill="#4a4ae8"/>
<circle cx="223.9" cy="349.4" r="2.3" fill="#4a4ae8"/>
<circle cx="229.5" cy="349.4" r="2.3" fill="#4a4ae8"/>
<circle cx="236.1" cy="349.4" r="2.3" fill="#4a4ae8"/>
<circle cx="241.9" cy="349.4" r="2.3" fill="#4a4ae8"/>
<circle cx="247.2" cy="349.4" r="2.3" fill="#4a4ae8"/>
<circle cx="253.0" cy="349.4" r="2.3" fill="#7474da"/>
<circle cx="258.3" cy="349.4" r="2.3" fill="#d49898"/>
<circle cx="149.9" cy="354.4" r="2.3" fill="#7474da"/>
<circle cx="155.8" cy="354.4" r="2.3" fill="#4a4ae8"/>
<circle cx="161.6" cy="354.4" r="2.3" fill="#4a4ae8"/>
<circle cx="166.8" cy="354.4" r="2.3" fill="#4a4ae8"/>
<circle cx="173.7" cy="354.4" r="2.3" fill="#4a4ae8"/>
<circle cx="179.0" cy="354.4" r="2.3" fill="#4a4ae8"/>
<circle cx="184.5" cy="354.4" r="2.3" fill="#4a4ae8"/>
<circle cx="190.1" cy="354.4" r="2.3" fill="#4a4ae8"/>
<circle cx="195.9" cy="354.4" r="2.3" fill="#b6b8c0"/>
<circle cx="201.2" cy="354.4" r="2.3" fill="#e06a6a"/>
<circle cx="207.0" cy="354.4" r="2.3" fill="#b6b8c0"/>
<circle cx="212.8" cy="354.4" r="2.3" fill="#7474da"/>
<circle cx="218.6" cy="354.4" r="2.3" fill="#4a4ae8"/>
<circle cx="223.9" cy="354.4" r="2.3" fill="#2222ee"/>
<circle cx="229.5" cy="354.4" r="2.3" fill="#4a4ae8"/>
<circle cx="236.1" cy="354.4" r="2.3" fill="#4a4ae8"/>
<circle cx="241.9" cy="354.4" r="2.3" fill="#2222ee"/>
<circle cx="247.2" cy="354.4" r="2.3" fill="#4a4ae8"/>
<circle cx="253.0" cy="354.4" r="2.3" fill="#7474da"/>
<circle cx="258.3" cy="354.4" r="2.3" fill="#b6b8c0"/>
<circle cx="263.8" cy="354.4" r="2.3" fill="#fa1a1a"/>
<circle cx="149.9" cy="359.4" r="2.3" fill="#7474da"/>
<circle cx="155.8" cy="359.4" r="2.3" fill="#7474da"/>
<circle cx="161.6" cy="359.4" r="2.3" fill="#4a4ae8"/>
<circle cx="166.8" cy="359.4" r="2.3" fill="#4a4ae8"/>
<circle cx="173.7" cy="359.4" r="2.3" fill="#2222ee"/>
<circle cx="179.0" cy="359.4" r="2.3" fill="#4a4ae8"/>
<circle cx="184.5" cy="359.4" r="2.3" fill="#2222ee"/>
<circle cx="190.1" cy="359.4" r="2.3" fill="#4a4ae8"/>
<circle cx="195.9" cy="359.4" r="2.3" fill="#b6b8c0"/>
<circle cx="201.2" cy="359.4" r="2.3" fill="#e06a6a"/>
<circle cx="207.0" cy="359.4" r="2.3" fill="#d49898"/>
<circle cx="212.8" cy="359.4" r="2.3" fill="#b6b8c0"/>
<circle cx="218.6" cy="359.4" r="2.3" fill="#d49898"/>
<circle cx="223.9" cy="359.4" r="2.3" fill="#4a4ae8"/>
<circle cx="229.5" cy="359.4" r="2.3" fill="#4a4ae8"/>
<circle cx="236.1" cy="359.4" r="2.3" fill="#4a4ae8"/>
<circle cx="241.9" cy="359.4" r="2.3" fill="#4a4ae8"/>
<circle cx="247.2" cy="359.4" r="2.3" fill="#b6b8c0"/>
<circle cx="253.0" cy="359.4" r="2.3" fill="#4a4ae8"/>
<circle cx="258.3" cy="359.4" r="2.3" fill="#d49898"/>
<circle cx="263.8" cy="359.4" r="2.3" fill="#fa1a1a"/>
<circle cx="149.9" cy="364.4" r="2.3" fill="#4a4ae8"/>
<circle cx="155.8" cy="364.4" r="2.3" fill="#d49898"/>
<circle cx="161.6" cy="364.4" r="2.3" fill="#2222ee"/>
<circle cx="173.7" cy="364.4" r="2.3" fill="#4a4ae8"/>
<circle cx="179.0" cy="364.4" r="2.3" fill="#4a4ae8"/>
<circle cx="184.5" cy="364.4" r="2.3" fill="#4a4ae8"/>
<circle cx="190.1" cy="364.4" r="2.3" fill="#4a4ae8"/>
<circle cx="195.9" cy="364.4" r="2.3" fill="#7474da"/>
<circle cx="201.2" cy="364.4" r="2.3" fill="#d49898"/>
<circle cx="207.0" cy="364.4" r="2.3" fill="#b6b8c0"/>
<circle cx="212.8" cy="364.4" r="2.3" fill="#d49898"/>
<circle cx="218.6" cy="364.4" r="2.3" fill="#4a4ae8"/>
<circle cx="223.9" cy="364.4" r="2.3" fill="#4a4ae8"/>
<circle cx="229.5" cy="364.4" r="2.3" fill="#2222ee"/>
<circle cx="236.1" cy="364.4" r="2.3" fill="#4a4ae8"/>
<circle cx="241.9" cy="364.4" r="2.3" fill="#7474da"/>
<circle cx="247.2" cy="364.4" r="2.3" fill="#4a4ae8"/>
<circle cx="253.0" cy="364.4" r="2.3" fill="#7474da"/>
<circle cx="258.3" cy="364.4" r="2.3" fill="#fa1a1a"/>
<circle cx="263.8" cy="364.4" r="2.3" fill="#fa1a1a"/>
<circle cx="149.9" cy="369.7" r="2.3" fill="#b6b8c0"/>
<circle cx="155.8" cy="369.7" r="2.3" fill="#7474da"/>
<circle cx="161.6" cy="369.7" r="2.3" fill="#2222ee"/>
<circle cx="166.8" cy="369.7" r="2.3" fill="#2222ee"/>
<circle cx="173.7" cy="369.7" r="2.3" fill="#2222ee"/>
<circle cx="179.0" cy="369.7" r="2.3" fill="#4a4ae8"/>
<circle cx="184.5" cy="369.7" r="2.3" fill="#4a4ae8"/>
<circle cx="190.1" cy="369.7" r="2.3" fill="#4a4ae8"/>
<circle cx="195.9" cy="369.7" r="2.3" fill="#4a4ae8"/>
<circle cx="201.2" cy="369.7" r="2.3" fill="#4a4ae8"/>
<circle cx="207.0" cy="369.7" r="2.3" fill="#e06a6a"/>
<circle cx="212.8" cy="369.7" r="2.3" fill="#e06a6a"/>
<circle cx="218.6" cy="369.7" r="2.3" fill="#d49898"/>
<circle cx="223.9" cy="369.7" r="2.3" fill="#4a4ae8"/>
<circle cx="229.5" cy="369.7" r="2.3" fill="#4a4ae8"/>
<circle cx="236.1" cy="369.7" r="2.3" fill="#4a4ae8"/>
<circle cx="241.9" cy="369.7" r="2.3" fill="#d49898"/>
<circle cx="247.2" cy="369.7" r="2.3" fill="#b6b8c0"/>
<circle cx="253.0" cy="369.7" r="2.3" fill="#e06a6a"/>
<circle cx="258.3" cy="369.7" r="2.3" fill="#d49898"/>
<circle cx="263.8" cy="369.7" r="2.3" fill="#fa1a1a"/>
<circle cx="149.9" cy="374.7" r="2.3" fill="#d49898"/>
<circle cx="155.8" cy="374.7" r="2.3" fill="#4a4ae8"/>
<circle cx="161.6" cy="374.7" r="2.3" fill="#4a4ae8"/>
<circle cx="166.8" cy="374.7" r="2.3" fill="#4a4ae8"/>
<circle cx="173.7" cy="374.7" r="2.3" fill="#4a4ae8"/>
<circle cx="179.0" cy="374.7" r="2.3" fill="#2222ee"/>
<circle cx="184.5" cy="374.7" r="2.3" fill="#4a4ae8"/>
<circle cx="190.1" cy="374.7" r="2.3" fill="#4a4ae8"/>
<circle cx="195.9" cy="374.7" r="2.3" fill="#d49898"/>
<circle cx="201.2" cy="374.7" r="2.3" fill="#7474da"/>
<circle cx="207.0" cy="374.7" r="2.3" fill="#fa1a1a"/>
<circle cx="212.8" cy="374.7" r="2.3" fill="#e06a6a"/>
<circle cx="218.6" cy="374.7" r="2.3" fill="#d49898"/>
<circle cx="223.9" cy="374.7" r="2.3" fill="#4a4ae8"/>
<circle cx="229.5" cy="374.7" r="2.3" fill="#4a4ae8"/>
<circle cx="236.1" cy="374.7" r="2.3" fill="#4a4ae8"/>
<circle cx="241.9" cy="374.7" r="2.3" fill="#e06a6a"/>
<circle cx="247.2" cy="374.7" r="2.3" fill="#b6b8c0"/>
<circle cx="253.0" cy="374.7" r="2.3" fill="#fa1a1a"/>
<circle cx="258.3" cy="374.7" r="2.3" fill="#fa1a1a"/>
<circle cx="263.8" cy="374.7" r="2.3" fill="#fa1a1a"/>
<circle cx="149.9" cy="379.7" r="2.3" fill="#d49898"/>
<circle cx="155.8" cy="379.7" r="2.3" fill="#7474da"/>
<circle cx="161.6" cy="379.7" r="2.3" fill="#4a4ae8"/>
<circle cx="166.8" cy="379.7" r="2.3" fill="#d49898"/>
<circle cx="173.7" cy="379.7" r="2.3" fill="#4a4ae8"/>
<circle cx="179.0" cy="379.7" r="2.3" fill="#4a4ae8"/>
<circle cx="184.5" cy="379.7" r="2.3" fill="#4a4ae8"/>
<circle cx="190.1" cy="379.7" r="2.3" fill="#2222ee"/>
<circle cx="195.9" cy="379.7" r="2.3" fill="#4a4ae8"/>
<circle cx="207.0" cy="379.7" r="2.3" fill="#fa1a1a"/>
<circle cx="212.8" cy="379.7" r="2.3" fill="#e06a6a"/>
<circle cx="218.6" cy="379.7" r="2.3" fill="#7474da"/>
<circle cx="223.9" cy="379.7" r="2.3" fill="#2222ee"/>
<circle cx="229.5" cy="379.7" r="2.3" fill="#4a4ae8"/>
<circle cx="236.1" cy="379.7" r="2.3" fill="#4a4ae8"/>
<circle cx="241.9" cy="379.7" r="2.3" fill="#b6b8c0"/>
<circle cx="247.2" cy="379.7" r="2.3" fill="#7474da"/>
<circle cx="253.0" cy="379.7" r="2.3" fill="#fa1a1a"/>
<circle cx="258.3" cy="379.7" r="2.3" fill="#fa1a1a"/>
<circle cx="263.8" cy="379.7" r="2.3" fill="#fa1a1a"/>
<circle cx="155.8" cy="384.7" r="2.3" fill="#fa1a1a"/>
<circle cx="161.6" cy="384.7" r="2.3" fill="#d49898"/>
<circle cx="166.8" cy="384.7" r="2.3" fill="#4a4ae8"/>
<circle cx="173.7" cy="384.7" r="2.3" fill="#4a4ae8"/>
<circle cx="179.0" cy="384.7" r="2.3" fill="#7474da"/>
<circle cx="184.5" cy="384.7" r="2.3" fill="#2222ee"/>
<circle cx="190.1" cy="384.7" r="2.3" fill="#2222ee"/>
<circle cx="195.9" cy="384.7" r="2.3" fill="#2222ee"/>
<circle cx="201.2" cy="384.7" r="2.3" fill="#b6b8c0"/>
<circle cx="207.0" cy="384.7" r="2.3" fill="#fa1a1a"/>
<circle cx="212.8" cy="384.7" r="2.3" fill="#e06a6a"/>
<circle cx="218.6" cy="384.7" r="2.3" fill="#4a4ae8"/>
<circle cx="223.9" cy="384.7" r="2.3" fill="#2222ee"/>
<circle cx="229.5" cy="384.7" r="2.3" fill="#4a4ae8"/>
<circle cx="236.1" cy="384.7" r="2.3" fill="#2222ee"/>
<circle cx="241.9" cy="384.7" r="2.3" fill="#b6b8c0"/>
<circle cx="247.2" cy="384.7" r="2.3" fill="#7474da"/>
<circle cx="253.0" cy="384.7" r="2.3" fill="#fa1a1a"/>
<circle cx="258.3" cy="384.7" r="2.3" fill="#fa1a1a"/>
<circle cx="155.8" cy="389.7" r="2.3" fill="#d49898"/>
<circle cx="161.6" cy="389.7" r="2.3" fill="#fa1a1a"/>
<circle cx="166.8" cy="389.7" r="2.3" fill="#d49898"/>
<circle cx="173.7" cy="389.7" r="2.3" fill="#7474da"/>
<circle cx="179.0" cy="389.7" r="2.3" fill="#d49898"/>
<circle cx="184.5" cy="389.7" r="2.3" fill="#4a4ae8"/>
<circle cx="190.1" cy="389.7" r="2.3" fill="#4a4ae8"/>
<circle cx="195.9" cy="389.7" r="2.3" fill="#4a4ae8"/>
<circle cx="201.2" cy="389.7" r="2.3" fill="#4a4ae8"/>
<circle cx="207.0" cy="389.7" r="2.3" fill="#d49898"/>
<circle cx="212.8" cy="389.7" r="2.3" fill="#d49898"/>
<circle cx="218.6" cy="389.7" r="2.3" fill="#d49898"/>
<circle cx="223.9" cy="389.7" r="2.3" fill="#7474da"/>
<circle cx="229.5" cy="389.7" r="2.3" fill="#2222ee"/>
<circle cx="236.1" cy="389.7" r="2.3" fill="#7474da"/>
<circle cx="247.2" cy="389.7" r="2.3" fill="#e06a6a"/>
<circle cx="253.0" cy="389.7" r="2.3" fill="#fa1a1a"/>
<circle cx="155.8" cy="394.7" r="2.3" fill="#d49898"/>
<circle cx="161.6" cy="394.7" r="2.3" fill="#fa1a1a"/>
<circle cx="166.8" cy="394.7" r="2.3" fill="#d49898"/>
<circle cx="173.7" cy="394.7" r="2.3" fill="#d49898"/>
<circle cx="179.0" cy="394.7" r="2.3" fill="#d49898"/>
<circle cx="184.5" cy="394.7" r="2.3" fill="#4a4ae8"/>
<circle cx="190.1" cy="394.7" r="2.3" fill="#4a4ae8"/>
<circle cx="195.9" cy="394.7" r="2.3" fill="#4a4ae8"/>
<circle cx="201.2" cy="394.7" r="2.3" fill="#4a4ae8"/>
<circle cx="207.0" cy="394.7" r="2.3" fill="#b6b8c0"/>
<circle cx="212.8" cy="394.7" r="2.3" fill="#b6b8c0"/>
<circle cx="218.6" cy="394.7" r="2.3" fill="#d49898"/>
<circle cx="223.9" cy="394.7" r="2.3" fill="#d49898"/>
<circle cx="229.5" cy="394.7" r="2.3" fill="#4a4ae8"/>
<circle cx="236.1" cy="394.7" r="2.3" fill="#4a4ae8"/>
<circle cx="241.9" cy="394.7" r="2.3" fill="#e06a6a"/>
<circle cx="247.2" cy="394.7" r="2.3" fill="#d49898"/>
<circle cx="155.8" cy="399.9" r="2.3" fill="#7474da"/>
<circle cx="161.6" cy="399.9" r="2.3" fill="#d49898"/>
<circle cx="166.8" cy="399.9" r="2.3" fill="#fa1a1a"/>
<circle cx="173.7" cy="399.9" r="2.3" fill="#fa1a1a"/>
<circle cx="179.0" cy="399.9" r="2.3" fill="#d49898"/>
<circle cx="184.5" cy="399.9" r="2.3" fill="#7474da"/>
<circle cx="190.1" cy="399.9" r="2.3" fill="#4a4ae8"/>
<circle cx="195.9" cy="399.9" r="2.3" fill="#4a4ae8"/>
<circle cx="201.2" cy="399.9" r="2.3" fill="#7474da"/>
<circle cx="207.0" cy="399.9" r="2.3" fill="#4a4ae8"/>
<circle cx="161.6" cy="404.9" r="2.3" fill="#d49898"/>
<circle cx="166.8" cy="404.9" r="2.3" fill="#fa1a1a"/>
<circle cx="173.7" cy="404.9" r="2.3" fill="#e06a6a"/>
<circle cx="184.5" cy="404.9" r="2.3" fill="#4a4ae8"/>
<circle cx="190.1" cy="404.9" r="2.3" fill="#7474da"/>
<circle cx="195.9" cy="404.9" r="2.3" fill="#b6b8c0"/>
<circle cx="201.2" cy="404.9" r="2.3" fill="#4a4ae8"/>
<text x="190.74" y="319.5" font-size="12.7" font-style="italic">Apoe</text>
<rect x="145.5" y="326.6" width="122.9" height="81.5" fill="none" stroke="#000" stroke-width="1.4"/>
<circle cx="83.3" cy="441.2" r="2.3" fill="#b6b8c0"/>
<circle cx="88.6" cy="441.2" r="2.3" fill="#e06a6a"/>
<circle cx="94.2" cy="441.2" r="2.3" fill="#b6b8c0"/>
<circle cx="100.8" cy="441.2" r="2.3" fill="#d49898"/>
<circle cx="106.6" cy="441.2" r="2.3" fill="#fa1a1a"/>
<circle cx="38.4" cy="445.9" r="2.3" fill="#7474da"/>
<circle cx="43.7" cy="445.9" r="2.3" fill="#b6b8c0"/>
<circle cx="49.2" cy="445.9" r="2.3" fill="#7474da"/>
<circle cx="54.8" cy="445.9" r="2.3" fill="#7474da"/>
<circle cx="77.5" cy="445.9" r="2.3" fill="#d49898"/>
<circle cx="83.3" cy="445.9" r="2.3" fill="#fa1a1a"/>
<circle cx="88.6" cy="445.9" r="2.3" fill="#d49898"/>
<circle cx="94.2" cy="445.9" r="2.3" fill="#d49898"/>
<circle cx="100.8" cy="445.9" r="2.3" fill="#e06a6a"/>
<circle cx="106.6" cy="445.9" r="2.3" fill="#d49898"/>
<circle cx="111.9" cy="445.9" r="2.3" fill="#d49898"/>
<circle cx="117.7" cy="445.9" r="2.3" fill="#7474da"/>
<circle cx="31.5" cy="450.6" r="2.3" fill="#7474da"/>
<circle cx="38.4" cy="450.6" r="2.3" fill="#fa1a1a"/>
<circle cx="43.7" cy="450.6" r="2.3" fill="#b6b8c0"/>
<circle cx="49.2" cy="450.6" r="2.3" fill="#d49898"/>
<circle cx="54.8" cy="450.6" r="2.3" fill="#7474da"/>
<circle cx="60.6" cy="450.6" r="2.3" fill="#7474da"/>
<circle cx="77.5" cy="450.6" r="2.3" fill="#d49898"/>
<circle cx="83.3" cy="450.6" r="2.3" fill="#d49898"/>
<circle cx="88.6" cy="450.6" r="2.3" fill="#4a4ae8"/>
<circle cx="94.2" cy="450.6" r="2.3" fill="#4a4ae8"/>
<circle cx="100.8" cy="450.6" r="2.3" fill="#7474da"/>
<circle cx="106.6" cy="450.6" r="2.3" fill="#d49898"/>
<circle cx="111.9" cy="450.6" r="2.3" fill="#fa1a1a"/>
<circle cx="117.7" cy="450.6" r="2.3" fill="#fa1a1a"/>
<circle cx="26.3" cy="455.9" r="2.3" fill="#b6b8c0"/>
<circle cx="31.5" cy="455.9" r="2.3" fill="#e06a6a"/>
<circle cx="38.4" cy="455.9" r="2.3" fill="#7474da"/>
<circle cx="43.7" cy="455.9" r="2.3" fill="#4a4ae8"/>
<circle cx="49.2" cy="455.9" r="2.3" fill="#4a4ae8"/>
<circle cx="54.8" cy="455.9" r="2.3" fill="#e06a6a"/>
<circle cx="60.6" cy="455.9" r="2.3" fill="#d49898"/>
<circle cx="71.7" cy="455.9" r="2.3" fill="#7474da"/>
<circle cx="77.5" cy="455.9" r="2.3" fill="#d49898"/>
<circle cx="83.3" cy="455.9" r="2.3" fill="#7474da"/>
<circle cx="88.6" cy="455.9" r="2.3" fill="#4a4ae8"/>
<circle cx="94.2" cy="455.9" r="2.3" fill="#4a4ae8"/>
<circle cx="100.8" cy="455.9" r="2.3" fill="#4a4ae8"/>
<circle cx="106.6" cy="455.9" r="2.3" fill="#b6b8c0"/>
<circle cx="111.9" cy="455.9" r="2.3" fill="#e06a6a"/>
<circle cx="117.7" cy="455.9" r="2.3" fill="#d49898"/>
<circle cx="123.0" cy="455.9" r="2.3" fill="#d49898"/>
<circle cx="20.5" cy="460.9" r="2.3" fill="#7474da"/>
<circle cx="26.3" cy="460.9" r="2.3" fill="#7474da"/>
<circle cx="31.5" cy="460.9" r="2.3" fill="#d49898"/>
<circle cx="38.4" cy="460.9" r="2.3" fill="#4a4ae8"/>
<circle cx="43.7" cy="460.9" r="2.3" fill="#4a4ae8"/>
<circle cx="49.2" cy="460.9" r="2.3" fill="#7474da"/>
<circle cx="54.8" cy="460.9" r="2.3" fill="#e06a6a"/>
<circle cx="60.6" cy="460.9" r="2.3" fill="#fa1a1a"/>
<circle cx="65.9" cy="460.9" r="2.3" fill="#4a4ae8"/>
<circle cx="77.5" cy="460.9" r="2.3" fill="#b6b8c0"/>
<circle cx="83.3" cy="460.9" r="2.3" fill="#7474da"/>
<circle cx="88.6" cy="460.9" r="2.3" fill="#4a4ae8"/>
<circle cx="94.2" cy="460.9" r="2.3" fill="#7474da"/>
<circle cx="100.8" cy="460.9" r="2.3" fill="#4a4ae8"/>
<circle cx="106.6" cy="460.9" r="2.3" fill="#4a4ae8"/>
<circle cx="111.9" cy="460.9" r="2.3" fill="#d49898"/>
<circle cx="117.7" cy="460.9" r="2.3" fill="#e06a6a"/>
<circle cx="123.0" cy="460.9" r="2.3" fill="#fa1a1a"/>
<circle cx="14.6" cy="465.9" r="2.3" fill="#d49898"/>
<circle cx="20.5" cy="465.9" r="2.3" fill="#d49898"/>
<circle cx="26.3" cy="465.9" r="2.3" fill="#d49898"/>
<circle cx="31.5" cy="465.9" r="2.3" fill="#4a4ae8"/>
<circle cx="38.4" cy="465.9" r="2.3" fill="#4a4ae8"/>
<circle cx="43.7" cy="465.9" r="2.3" fill="#7474da"/>
<circle cx="49.2" cy="465.9" r="2.3" fill="#7474da"/>
<circle cx="54.8" cy="465.9" r="2.3" fill="#7474da"/>
<circle cx="60.6" cy="465.9" r="2.3" fill="#b6b8c0"/>
<circle cx="65.9" cy="465.9" r="2.3" fill="#b6b8c0"/>
<circle cx="71.7" cy="465.9" r="2.3" fill="#4a4ae8"/>
<circle cx="77.5" cy="465.9" r="2.3" fill="#d49898"/>
<circle cx="83.3" cy="465.9" r="2.3" fill="#b6b8c0"/>
<circle cx="88.6" cy="465.9" r="2.3" fill="#4a4ae8"/>
<circle cx="94.2" cy="465.9" r="2.3" fill="#b6b8c0"/>
<circle cx="100.8" cy="465.9" r="2.3" fill="#7474da"/>
<circle cx="106.6" cy="465.9" r="2.3" fill="#4a4ae8"/>
<circle cx="111.9" cy="465.9" r="2.3" fill="#d49898"/>
<circle cx="117.7" cy="465.9" r="2.3" fill="#e06a6a"/>
<circle cx="123.0" cy="465.9" r="2.3" fill="#d49898"/>
<circle cx="128.5" cy="465.9" r="2.3" fill="#7474da"/>
<circle cx="14.6" cy="470.9" r="2.3" fill="#e06a6a"/>
<circle cx="20.5" cy="470.9" r="2.3" fill="#7474da"/>
<circle cx="26.3" cy="470.9" r="2.3" fill="#7474da"/>
<circle cx="31.5" cy="470.9" r="2.3" fill="#7474da"/>
<circle cx="38.4" cy="470.9" r="2.3" fill="#7474da"/>
<circle cx="43.7" cy="470.9" r="2.3" fill="#b6b8c0"/>
<circle cx="49.2" cy="470.9" r="2.3" fill="#7474da"/>
<circle cx="54.8" cy="470.9" r="2.3" fill="#7474da"/>
<circle cx="60.6" cy="470.9" r="2.3" fill="#b6b8c0"/>
<circle cx="65.9" cy="470.9" r="2.3" fill="#d49898"/>
<circle cx="71.7" cy="470.9" r="2.3" fill="#2222ee"/>
<circle cx="77.5" cy="470.9" r="2.3" fill="#d49898"/>
<circle cx="83.3" cy="470.9" r="2.3" fill="#fa1a1a"/>
<circle cx="88.6" cy="470.9" r="2.3" fill="#b6b8c0"/>
<circle cx="94.2" cy="470.9" r="2.3" fill="#7474da"/>
<circle cx="100.8" cy="470.9" r="2.3" fill="#b6b8c0"/>
<circle cx="106.6" cy="470.9" r="2.3" fill="#7474da"/>
<circle cx="111.9" cy="470.9" r="2.3" fill="#d49898"/>
<circle cx="117.7" cy="470.9" r="2.3" fill="#e06a6a"/>
<circle cx="123.0" cy="470.9" r="2.3" fill="#e06a6a"/>
<circle cx="128.5" cy="470.9" r="2.3" fill="#7474da"/>
<circle cx="14.6" cy="475.9" r="2.3" fill="#7474da"/>
<circle cx="20.5" cy="475.9" r="2.3" fill="#d49898"/>
<circle cx="26.3" cy="475.9" r="2.3" fill="#d49898"/>
<circle cx="38.4" cy="475.9" r="2.3" fill="#4a4ae8"/>
<circle cx="43.7" cy="475.9" r="2.3" fill="#7474da"/>
<circle cx="49.2" cy="475.9" r="2.3" fill="#4a4ae8"/>
<circle cx="54.8" cy="475.9" r="2.3" fill="#b6b8c0"/>
<circle cx="60.6" cy="475.9" r="2.3" fill="#fa1a1a"/>
<circle cx="65.9" cy="475.9" r="2.3" fill="#d49898"/>
<circle cx="71.7" cy="475.9" r="2.3" fill="#4a4ae8"/>
<circle cx="77.5" cy="475.9" r="2.3" fill="#e06a6a"/>
<circle cx="83.3" cy="475.9" r="2.3" fill="#d49898"/>
<circle cx="88.6" cy="475.9" r="2.3" fill="#d49898"/>
<circle cx="94.2" cy="475.9" r="2.3" fill="#7474da"/>
<circle cx="100.8" cy="475.9" r="2.3" fill="#4a4ae8"/>
<circle cx="106.6" cy="475.9" r="2.3" fill="#b6b8c0"/>
<circle cx="111.9" cy="475.9" r="2.3" fill="#e06a6a"/>
<circle cx="117.7" cy="475.9" r="2.3" fill="#e06a6a"/>
<circle cx="123.0" cy="475.9" r="2.3" fill="#2222ee"/>
<circle cx="128.5" cy="475.9" r="2.3" fill="#4a4ae8"/>
<circle cx="14.6" cy="481.2" r="2.3" fill="#d49898"/>
<circle cx="20.5" cy="481.2" r="2.3" fill="#fa1a1a"/>
<circle cx="26.3" cy="481.2" r="2.3" fill="#e06a6a"/>
<circle cx="31.5" cy="481.2" r="2.3" fill="#4a4ae8"/>
<circle cx="38.4" cy="481.2" r="2.3" fill="#7474da"/>
<circle cx="43.7" cy="481.2" r="2.3" fill="#4a4ae8"/>
<circle cx="49.2" cy="481.2" r="2.3" fill="#7474da"/>
<circle cx="54.8" cy="481.2" r="2.3" fill="#d49898"/>
<circle cx="60.6" cy="481.2" r="2.3" fill="#d49898"/>
<circle cx="65.9" cy="481.2" r="2.3" fill="#b6b8c0"/>
<circle cx="71.7" cy="481.2" r="2.3" fill="#2222ee"/>
<circle cx="77.5" cy="481.2" r="2.3" fill="#7474da"/>
<circle cx="83.3" cy="481.2" r="2.3" fill="#e06a6a"/>
<circle cx="88.6" cy="481.2" r="2.3" fill="#d49898"/>
<circle cx="94.2" cy="481.2" r="2.3" fill="#7474da"/>
<circle cx="100.8" cy="481.2" r="2.3" fill="#4a4ae8"/>
<circle cx="106.6" cy="481.2" r="2.3" fill="#d49898"/>
<circle cx="111.9" cy="481.2" r="2.3" fill="#e06a6a"/>
<circle cx="117.7" cy="481.2" r="2.3" fill="#b6b8c0"/>
<circle cx="123.0" cy="481.2" r="2.3" fill="#4a4ae8"/>
<circle cx="128.5" cy="481.2" r="2.3" fill="#2222ee"/>
<circle cx="14.6" cy="486.2" r="2.3" fill="#7474da"/>
<circle cx="20.5" cy="486.2" r="2.3" fill="#d49898"/>
<circle cx="26.3" cy="486.2" r="2.3" fill="#e06a6a"/>
<circle cx="31.5" cy="486.2" r="2.3" fill="#d49898"/>
<circle cx="38.4" cy="486.2" r="2.3" fill="#b6b8c0"/>
<circle cx="43.7" cy="486.2" r="2.3" fill="#7474da"/>
<circle cx="49.2" cy="486.2" r="2.3" fill="#7474da"/>
<circle cx="54.8" cy="486.2" r="2.3" fill="#7474da"/>
<circle cx="60.6" cy="486.2" r="2.3" fill="#e06a6a"/>
<circle cx="65.9" cy="486.2" r="2.3" fill="#4a4ae8"/>
<circle cx="71.7" cy="486.2" r="2.3" fill="#2222ee"/>
<circle cx="77.5" cy="486.2" r="2.3" fill="#4a4ae8"/>
<circle cx="83.3" cy="486.2" r="2.3" fill="#e06a6a"/>
<circle cx="88.6" cy="486.2" r="2.3" fill="#d49898"/>
<circle cx="94.2" cy="486.2" r="2.3" fill="#b6b8c0"/>
<circle cx="100.8" cy="486.2" r="2.3" fill="#7474da"/>
<circle cx="106.6" cy="486.2" r="2.3" fill="#e06a6a"/>
<circle cx="111.9" cy="486.2" r="2.3" fill="#d49898"/>
<circle cx="117.7" cy="486.2" r="2.3" fill="#7474da"/>
<circle cx="123.0" cy="486.2" r="2.3" fill="#2222ee"/>
<circle cx="128.5" cy="486.2" r="2.3" fill="#2222ee"/>
<circle cx="14.6" cy="491.2" r="2.3" fill="#b6b8c0"/>
<circle cx="20.5" cy="491.2" r="2.3" fill="#b6b8c0"/>
<circle cx="26.3" cy="491.2" r="2.3" fill="#fa1a1a"/>
<circle cx="31.5" cy="491.2" r="2.3" fill="#e06a6a"/>
<circle cx="38.4" cy="491.2" r="2.3" fill="#d49898"/>
<circle cx="43.7" cy="491.2" r="2.3" fill="#7474da"/>
<circle cx="49.2" cy="491.2" r="2.3" fill="#7474da"/>
<circle cx="54.8" cy="491.2" r="2.3" fill="#4a4ae8"/>
<circle cx="60.6" cy="491.2" r="2.3" fill="#d49898"/>
<circle cx="71.7" cy="491.2" r="2.3" fill="#2222ee"/>
<circle cx="77.5" cy="491.2" r="2.3" fill="#2222ee"/>
<circle cx="83.3" cy="491.2" r="2.3" fill="#e06a6a"/>
<circle cx="88.6" cy="491.2" r="2.3" fill="#b6b8c0"/>
<circle cx="94.2" cy="491.2" r="2.3" fill="#7474da"/>
<circle cx="100.8" cy="491.2" r="2.3" fill="#4a4ae8"/>
<circle cx="106.6" cy="491.2" r="2.3" fill="#b6b8c0"/>
<circle cx="111.9" cy="491.2" r="2.3" fill="#d49898"/>
<circle cx="117.7" cy="491.2" r="2.3" fill="#2222ee"/>
<circle cx="123.0" cy="491.2" r="2.3" fill="#2222ee"/>
<circle cx="128.5" cy="491.2" r="2.3" fill="#4a4ae8"/>
<circle cx="20.5" cy="496.2" r="2.3" fill="#e06a6a"/>
<circle cx="26.3" cy="496.2" r="2.3" fill="#e06a6a"/>
<circle cx="31.5" cy="496.2" r="2.3" fill="#b6b8c0"/>
<circle cx="38.4" cy="496.2" r="2.3" fill="#e06a6a"/>
<circle cx="43.7" cy="496.2" r="2.3" fill="#d49898"/>
<circle cx="49.2" cy="496.2" r="2.3" fill="#4a4ae8"/>
<circle cx="54.8" cy="496.2" r="2.3" fill="#7474da"/>
<circle cx="60.6" cy="496.2" r="2.3" fill="#4a4ae8"/>
<circle cx="65.9" cy="496.2" r="2.3" fill="#e06a6a"/>
<circle cx="71.7" cy="496.2" r="2.3" fill="#7474da"/>
<circle cx="77.5" cy="496.2" r="2.3" fill="#2222ee"/>
<circle cx="83.3" cy="496.2" r="2.3" fill="#d49898"/>
<circle cx="88.6" cy="496.2" r="2.3" fill="#d49898"/>
<circle cx="94.2" cy="496.2" r="2.3" fill="#4a4ae8"/>
<circle cx="100.8" cy="496.2" r="2.3" fill="#2222ee"/>
<circle cx="106.6" cy="496.2" r="2.3" fill="#fa1a1a"/>
<circle cx="111.9" cy="496.2" r="2.3" fill="#d49898"/>
<circle cx="117.7" cy="496.2" r="2.3" fill="#b6b8c0"/>
<circle cx="123.0" cy="496.2" r="2.3" fill="#7474da"/>
<circle cx="20.5" cy="501.2" r="2.3" fill="#7474da"/>
<circle cx="26.3" cy="501.2" r="2.3" fill="#4a4ae8"/>
<circle cx="31.5" cy="501.2" r="2.3" fill="#e06a6a"/>
<circle cx="38.4" cy="501.2" r="2.3" fill="#b6b8c0"/>
<circle cx="43.7" cy="501.2" r="2.3" fill="#d49898"/>
<circle cx="49.2" cy="501.2" r="2.3" fill="#b6b8c0"/>
<circle cx="54.8" cy="501.2" r="2.3" fill="#7474da"/>
<circle cx="60.6" cy="501.2" r="2.3" fill="#7474da"/>
<circle cx="65.9" cy="501.2" r="2.3" fill="#b6b8c0"/>
<circle cx="71.7" cy="501.2" r="2.3" fill="#4a4ae8"/>
<circle cx="77.5" cy="501.2" r="2.3" fill="#2222ee"/>
<circle cx="83.3" cy="501.2" r="2.3" fill="#7474da"/>
<circle cx="88.6" cy="501.2" r="2.3" fill="#e06a6a"/>
<circle cx="94.2" cy="501.2" r="2.3" fill="#d49898"/>
<circle cx="100.8" cy="501.2" r="2.3" fill="#e06a6a"/>
<circle cx="111.9" cy="501.2" r="2.3" fill="#e06a6a"/>
<circle cx="117.7" cy="501.2" r="2.3" fill="#2222ee"/>
<circle cx="20.5" cy="506.2" r="2.3" fill="#7474da"/>
<circle cx="26.3" cy="506.2" r="2.3" fill="#4a4ae8"/>
<circle cx="31.5" cy="506.2" r="2.3" fill="#7474da"/>
<circle cx="38.4" cy="506.2" r="2.3" fill="#e06a6a"/>
<circle cx="43.7" cy="506.2" r="2.3" fill="#e06a6a"/>
<circle cx="49.2" cy="506.2" r="2.3" fill="#e06a6a"/>
<circle cx="54.8" cy="506.2" r="2.3" fill="#4a4ae8"/>
<circle cx="60.6" cy="506.2" r="2.3" fill="#7474da"/>
<circle cx="65.9" cy="506.2" r="2.3" fill="#e06a6a"/>
<circle cx="71.7" cy="506.2" r="2.3" fill="#7474da"/>
<circle cx="77.5" cy="506.2" r="2.3" fill="#2222ee"/>
<circle cx="83.3" cy="506.2" r="2.3" fill="#2222ee"/>
<circle cx="88.6" cy="506.2" r="2.3" fill="#e06a6a"/>
<circle cx="94.2" cy="506.2" r="2.3" fill="#e06a6a"/>
<circle cx="100.8" cy="506.2" r="2.3" fill="#e06a6a"/>
<circle cx="106.6" cy="506.2" r="2.3" fill="#b6b8c0"/>
<circle cx="111.9" cy="506.2" r="2.3" fill="#b6b8c0"/>
<circle cx="20.5" cy="511.4" r="2.3" fill="#7474da"/>
<circle cx="26.3" cy="511.4" r="2.3" fill="#4a4ae8"/>
<circle cx="31.5" cy="511.4" r="2.3" fill="#2222ee"/>
<circle cx="38.4" cy="511.4" r="2.3" fill="#7474da"/>
<circle cx="43.7" cy="511.4" r="2.3" fill="#fa1a1a"/>
<circle cx="49.2" cy="511.4" r="2.3" fill="#e06a6a"/>
<circle cx="54.8" cy="511.4" r="2.3" fill="#d49898"/>
<circle cx="60.6" cy="511.4" r="2.3" fill="#b6b8c0"/>
<circle cx="65.9" cy="511.4" r="2.3" fill="#fa1a1a"/>
<circle cx="71.7" cy="511.4" r="2.3" fill="#7474da"/>
<circle cx="26.3" cy="516.4" r="2.3" fill="#2222ee"/>
<circle cx="31.5" cy="516.4" r="2.3" fill="#7474da"/>
<circle cx="38.4" cy="516.4" r="2.3" fill="#7474da"/>
<circle cx="49.2" cy="516.4" r="2.3" fill="#fa1a1a"/>
<circle cx="54.8" cy="516.4" r="2.3" fill="#d49898"/>
<circle cx="60.6" cy="516.4" r="2.3" fill="#fa1a1a"/>
<circle cx="65.9" cy="516.4" r="2.3" fill="#d49898"/>
<text x="56.84" y="431.1" font-size="12.7" font-style="italic">Cpe</text>
<rect x="10.2" y="438.1" width="122.9" height="81.5" fill="none" stroke="#000" stroke-width="1.4"/>
<circle cx="218.6" cy="441.2" r="2.3" fill="#d49898"/>
<circle cx="223.9" cy="441.2" r="2.3" fill="#e06a6a"/>
<circle cx="229.5" cy="441.2" r="2.3" fill="#b6b8c0"/>
<circle cx="236.1" cy="441.2" r="2.3" fill="#e06a6a"/>
<circle cx="241.9" cy="441.2" r="2.3" fill="#fa1a1a"/>
<circle cx="173.7" cy="445.9" r="2.3" fill="#7474da"/>
<circle cx="179.0" cy="445.9" r="2.3" fill="#7474da"/>
<circle cx="184.5" cy="445.9" r="2.3" fill="#7474da"/>
<circle cx="190.1" cy="445.9" r="2.3" fill="#7474da"/>
<circle cx="212.8" cy="445.9" r="2.3" fill="#fa1a1a"/>
<circle cx="218.6" cy="445.9" r="2.3" fill="#d49898"/>
<circle cx="223.9" cy="445.9" r="2.3" fill="#7474da"/>
<circle cx="229.5" cy="445.9" r="2.3" fill="#7474da"/>
<circle cx="236.1" cy="445.9" r="2.3" fill="#b6b8c0"/>
<circle cx="241.9" cy="445.9" r="2.3" fill="#b6b8c0"/>
<circle cx="247.2" cy="445.9" r="2.3" fill="#d49898"/>
<circle cx="253.0" cy="445.9" r="2.3" fill="#e06a6a"/>
<circle cx="166.8" cy="450.6" r="2.3" fill="#e06a6a"/>
<circle cx="173.7" cy="450.6" r="2.3" fill="#b6b8c0"/>
<circle cx="179.0" cy="450.6" r="2.3" fill="#d49898"/>
<circle cx="184.5" cy="450.6" r="2.3" fill="#4a4ae8"/>
<circle cx="190.1" cy="450.6" r="2.3" fill="#d49898"/>
<circle cx="195.9" cy="450.6" r="2.3" fill="#e06a6a"/>
<circle cx="212.8" cy="450.6" r="2.3" fill="#fa1a1a"/>
<circle cx="218.6" cy="450.6" r="2.3" fill="#4a4ae8"/>
<circle cx="223.9" cy="450.6" r="2.3" fill="#4a4ae8"/>
<circle cx="229.5" cy="450.6" r="2.3" fill="#4a4ae8"/>
<circle cx="236.1" cy="450.6" r="2.3" fill="#7474da"/>
<circle cx="241.9" cy="450.6" r="2.3" fill="#2222ee"/>
<circle cx="247.2" cy="450.6" r="2.3" fill="#4a4ae8"/>
<circle cx="253.0" cy="450.6" r="2.3" fill="#fa1a1a"/>
<circle cx="161.6" cy="455.9" r="2.3" fill="#e06a6a"/>
<circle cx="166.8" cy="455.9" r="2.3" fill="#d49898"/>
<circle cx="173.7" cy="455.9" r="2.3" fill="#7474da"/>
<circle cx="179.0" cy="455.9" r="2.3" fill="#2222ee"/>
<circle cx="184.5" cy="455.9" r="2.3" fill="#7474da"/>
<circle cx="190.1" cy="455.9" r="2.3" fill="#7474da"/>
<circle cx="195.9" cy="455.9" r="2.3" fill="#fa1a1a"/>
<circle cx="207.0" cy="455.9" r="2.3" fill="#b6b8c0"/>
<circle cx="212.8" cy="455.9" r="2.3" fill="#b6b8c0"/>
<circle cx="218.6" cy="455.9" r="2.3" fill="#4a4ae8"/>
<circle cx="223.9" cy="455.9" r="2.3" fill="#4a4ae8"/>
<circle cx="229.5" cy="455.9" r="2.3" fill="#2222ee"/>
<circle cx="236.1" cy="455.9" r="2.3" fill="#4a4ae8"/>
<circle cx="241.9" cy="455.9" r="2.3" fill="#d49898"/>
<circle cx="247.2" cy="455.9" r="2.3" fill="#7474da"/>
<circle cx="253.0" cy="455.9" r="2.3" fill="#4a4ae8"/>
<circle cx="258.3" cy="455.9" r="2.3" fill="#fa1a1a"/>
<circle cx="155.8" cy="460.9" r="2.3" fill="#fa1a1a"/>
<circle cx="161.6" cy="460.9" r="2.3" fill="#d49898"/>
<circle cx="166.8" cy="460.9" r="2.3" fill="#7474da"/>
<circle cx="173.7" cy="460.9" r="2.3" fill="#2222ee"/>
<circle cx="179.0" cy="460.9" r="2.3" fill="#4a4ae8"/>
<circle cx="184.5" cy="460.9" r="2.3" fill="#7474da"/>
<circle cx="190.1" cy="460.9" r="2.3" fill="#d49898"/>
<circle cx="195.9" cy="460.9" r="2.3" fill="#d49898"/>
<circle cx="201.2" cy="460.9" r="2.3" fill="#4a4ae8"/>
<circle cx="212.8" cy="460.9" r="2.3" fill="#b6b8c0"/>
<circle cx="218.6" cy="460.9" r="2.3" fill="#4a4ae8"/>
<circle cx="223.9" cy="460.9" r="2.3" fill="#2222ee"/>
<circle cx="229.5" cy="460.9" r="2.3" fill="#4a4ae8"/>
<circle cx="236.1" cy="460.9" r="2.3" fill="#2222ee"/>
<circle cx="241.9" cy="460.9" r="2.3" fill="#4a4ae8"/>
<circle cx="247.2" cy="460.9" r="2.3" fill="#7474da"/>
<circle cx="253.0" cy="460.9" r="2.3" fill="#4a4ae8"/>
<circle cx="258.3" cy="460.9" r="2.3" fill="#fa1a1a"/>
<circle cx="149.9" cy="465.9" r="2.3" fill="#fa1a1a"/>
<circle cx="155.8" cy="465.9" r="2.3" fill="#7474da"/>
<circle cx="161.6" cy="465.9" r="2.3" fill="#b6b8c0"/>
<circle cx="166.8" cy="465.9" r="2.3" fill="#4a4ae8"/>
<circle cx="173.7" cy="465.9" r="2.3" fill="#4a4ae8"/>
<circle cx="179.0" cy="465.9" r="2.3" fill="#2222ee"/>
<circle cx="184.5" cy="465.9" r="2.3" fill="#4a4ae8"/>
<circle cx="190.1" cy="465.9" r="2.3" fill="#7474da"/>
<circle cx="195.9" cy="465.9" r="2.3" fill="#b6b8c0"/>
<circle cx="201.2" cy="465.9" r="2.3" fill="#d49898"/>
<circle cx="207.0" cy="465.9" r="2.3" fill="#7474da"/>
<circle cx="212.8" cy="465.9" r="2.3" fill="#d49898"/>
<circle cx="218.6" cy="465.9" r="2.3" fill="#4a4ae8"/>
<circle cx="223.9" cy="465.9" r="2.3" fill="#4a4ae8"/>
<circle cx="229.5" cy="465.9" r="2.3" fill="#4a4ae8"/>
<circle cx="236.1" cy="465.9" r="2.3" fill="#2222ee"/>
<circle cx="241.9" cy="465.9" r="2.3" fill="#4a4ae8"/>
<circle cx="247.2" cy="465.9" r="2.3" fill="#7474da"/>
<circle cx="253.0" cy="465.9" r="2.3" fill="#b6b8c0"/>
<circle cx="258.3" cy="465.9" r="2.3" fill="#fa1a1a"/>
<circle cx="263.8" cy="465.9" r="2.3" fill="#4a4ae8"/>
<circle cx="149.9" cy="470.9" r="2.3" fill="#fa1a1a"/>
<circle cx="155.8" cy="470.9" r="2.3" fill="#7474da"/>
<circle cx="161.6" cy="470.9" r="2.3" fill="#d49898"/>
<circle cx="166.8" cy="470.9" r="2.3" fill="#4a4ae8"/>
<circle cx="173.7" cy="470.9" r="2.3" fill="#4a4ae8"/>
<circle cx="179.0" cy="470.9" r="2.3" fill="#7474da"/>
<circle cx="184.5" cy="470.9" r="2.3" fill="#2222ee"/>
<circle cx="190.1" cy="470.9" r="2.3" fill="#b6b8c0"/>
<circle cx="195.9" cy="470.9" r="2.3" fill="#d49898"/>
<circle cx="201.2" cy="470.9" r="2.3" fill="#7474da"/>
<circle cx="207.0" cy="470.9" r="2.3" fill="#7474da"/>
<circle cx="212.8" cy="470.9" r="2.3" fill="#fa1a1a"/>
<circle cx="218.6" cy="470.9" r="2.3" fill="#4a4ae8"/>
<circle cx="223.9" cy="470.9" r="2.3" fill="#4a4ae8"/>
<circle cx="229.5" cy="470.9" r="2.3" fill="#2222ee"/>
<circle cx="236.1" cy="470.9" r="2.3" fill="#4a4ae8"/>
<circle cx="241.9" cy="470.9" r="2.3" fill="#7474da"/>
<circle cx="247.2" cy="470.9" r="2.3" fill="#7474da"/>
<circle cx="253.0" cy="470.9" r="2.3" fill="#d49898"/>
<circle cx="258.3" cy="470.9" r="2.3" fill="#fa1a1a"/>
<circle cx="263.8" cy="470.9" r="2.3" fill="#7474da"/>
<circle cx="149.9" cy="475.9" r="2.3" fill="#7474da"/>
<circle cx="155.8" cy="475.9" r="2.3" fill="#d49898"/>
<circle cx="161.6" cy="475.9" r="2.3" fill="#4a4ae8"/>
<circle cx="173.7" cy="475.9" r="2.3" fill="#2222ee"/>
<circle cx="179.0" cy="475.9" r="2.3" fill="#2222ee"/>
<circle cx="184.5" cy="475.9" r="2.3" fill="#4a4ae8"/>
<circle cx="190.1" cy="475.9" r="2.3" fill="#7474da"/>
<circle cx="195.9" cy="475.9" r="2.3" fill="#7474da"/>
<circle cx="201.2" cy="475.9" r="2.3" fill="#fa1a1a"/>
<circle cx="207.0" cy="475.9" r="2.3" fill="#7474da"/>
<circle cx="212.8" cy="475.9" r="2.3" fill="#fa1a1a"/>
<circle cx="218.6" cy="475.9" r="2.3" fill="#4a4ae8"/>
<circle cx="223.9" cy="475.9" r="2.3" fill="#7474da"/>
<circle cx="229.5" cy="475.9" r="2.3" fill="#4a4ae8"/>
<circle cx="236.1" cy="475.9" r="2.3" fill="#4a4ae8"/>
<circle cx="241.9" cy="475.9" r="2.3" fill="#b6b8c0"/>
<circle cx="247.2" cy="475.9" r="2.3" fill="#7474da"/>
<circle cx="253.0" cy="475.9" r="2.3" fill="#d49898"/>
<circle cx="258.3" cy="475.9" r="2.3" fill="#4a4ae8"/>
<circle cx="263.8" cy="475.9" r="2.3" fill="#7474da"/>
<circle cx="149.9" cy="481.2" r="2.3" fill="#d49898"/>
<circle cx="155.8" cy="481.2" r="2.3" fill="#d49898"/>
<circle cx="161.6" cy="481.2" r="2.3" fill="#4a4ae8"/>
<circle cx="166.8" cy="481.2" r="2.3" fill="#4a4ae8"/>
<circle cx="173.7" cy="481.2" r="2.3" fill="#2222ee"/>
<circle cx="179.0" cy="481.2" r="2.3" fill="#4a4ae8"/>
<circle cx="184.5" cy="481.2" r="2.3" fill="#7474da"/>
<circle cx="190.1" cy="481.2" r="2.3" fill="#7474da"/>
<circle cx="195.9" cy="481.2" r="2.3" fill="#b6b8c0"/>
<circle cx="201.2" cy="481.2" r="2.3" fill="#fa1a1a"/>
<circle cx="207.0" cy="481.2" r="2.3" fill="#7474da"/>
<circle cx="212.8" cy="481.2" r="2.3" fill="#d49898"/>
<circle cx="218.6" cy="481.2" r="2.3" fill="#fa1a1a"/>
<circle cx="223.9" cy="481.2" r="2.3" fill="#7474da"/>
<circle cx="229.5" cy="481.2" r="2.3" fill="#4a4ae8"/>
<circle cx="236.1" cy="481.2" r="2.3" fill="#d49898"/>
<circle cx="241.9" cy="481.2" r="2.3" fill="#4a4ae8"/>
<circle cx="247.2" cy="481.2" r="2.3" fill="#b6b8c0"/>
<circle cx="253.0" cy="481.2" r="2.3" fill="#d49898"/>
<circle cx="258.3" cy="481.2" r="2.3" fill="#b6b8c0"/>
<circle cx="263.8" cy="481.2" r="2.3" fill="#7474da"/>
<circle cx="149.9" cy="486.2" r="2.3" fill="#d49898"/>
<circle cx="155.8" cy="486.2" r="2.3" fill="#fa1a1a"/>
<circle cx="161.6" cy="486.2" r="2.3" fill="#4a4ae8"/>
<circle cx="166.8" cy="486.2" r="2.3" fill="#7474da"/>
<circle cx="173.7" cy="486.2" r="2.3" fill="#4a4ae8"/>
<circle cx="179.0" cy="486.2" r="2.3" fill="#7474da"/>
<circle cx="184.5" cy="486.2" r="2.3" fill="#4a4ae8"/>
<circle cx="190.1" cy="486.2" r="2.3" fill="#4a4ae8"/>
<circle cx="195.9" cy="486.2" r="2.3" fill="#d49898"/>
<circle cx="201.2" cy="486.2" r="2.3" fill="#fa1a1a"/>
<circle cx="207.0" cy="486.2" r="2.3" fill="#7474da"/>
<circle cx="212.8" cy="486.2" r="2.3" fill="#b6b8c0"/>
<circle cx="218.6" cy="486.2" r="2.3" fill="#d49898"/>
<circle cx="223.9" cy="486.2" r="2.3" fill="#7474da"/>
<circle cx="229.5" cy="486.2" r="2.3" fill="#4a4ae8"/>
<circle cx="236.1" cy="486.2" r="2.3" fill="#7474da"/>
<circle cx="241.9" cy="486.2" r="2.3" fill="#4a4ae8"/>
<circle cx="247.2" cy="486.2" r="2.3" fill="#fa1a1a"/>
<circle cx="253.0" cy="486.2" r="2.3" fill="#4a4ae8"/>
<circle cx="258.3" cy="486.2" r="2.3" fill="#2222ee"/>
<circle cx="263.8" cy="486.2" r="2.3" fill="#b6b8c0"/>
<circle cx="149.9" cy="491.2" r="2.3" fill="#e06a6a"/>
<circle cx="155.8" cy="491.2" r="2.3" fill="#fa1a1a"/>
<circle cx="161.6" cy="491.2" r="2.3" fill="#fa1a1a"/>
<circle cx="166.8" cy="491.2" r="2.3" fill="#2222ee"/>
<circle cx="173.7" cy="491.2" r="2.3" fill="#e06a6a"/>
<circle cx="179.0" cy="491.2" r="2.3" fill="#d49898"/>
<circle cx="184.5" cy="491.2" r="2.3" fill="#4a4ae8"/>
<circle cx="190.1" cy="491.2" r="2.3" fill="#2222ee"/>
<circle cx="195.9" cy="491.2" r="2.3" fill="#4a4ae8"/>
<circle cx="207.0" cy="491.2" r="2.3" fill="#b6b8c0"/>
<circle cx="212.8" cy="491.2" r="2.3" fill="#2222ee"/>
<circle cx="218.6" cy="491.2" r="2.3" fill="#7474da"/>
<circle cx="223.9" cy="491.2" r="2.3" fill="#b6b8c0"/>
<circle cx="229.5" cy="491.2" r="2.3" fill="#2222ee"/>
<circle cx="236.1" cy="491.2" r="2.3" fill="#4a4ae8"/>
<circle cx="241.9" cy="491.2" r="2.3" fill="#4a4ae8"/>
<circle cx="247.2" cy="491.2" r="2.3" fill="#fa1a1a"/>
<circle cx="253.0" cy="491.2" r="2.3" fill="#b6b8c0"/>
<circle cx="258.3" cy="491.2" r="2.3" fill="#2222ee"/>
<circle cx="263.8" cy="491.2" r="2.3" fill="#2222ee"/>
<circle cx="155.8" cy="496.2" r="2.3" fill="#4a4ae8"/>
<circle cx="161.6" cy="496.2" r="2.3" fill="#d49898"/>
<circle cx="166.8" cy="496.2" r="2.3" fill="#fa1a1a"/>
<circle cx="173.7" cy="496.2" r="2.3" fill="#d49898"/>
<circle cx="179.0" cy="496.2" r="2.3" fill="#b6b8c0"/>
<circle cx="184.5" cy="496.2" r="2.3" fill="#7474da"/>
<circle cx="190.1" cy="496.2" r="2.3" fill="#4a4ae8"/>
<circle cx="195.9" cy="496.2" r="2.3" fill="#7474da"/>
<circle cx="201.2" cy="496.2" r="2.3" fill="#b6b8c0"/>
<circle cx="207.0" cy="496.2" r="2.3" fill="#4a4ae8"/>
<circle cx="212.8" cy="496.2" r="2.3" fill="#b6b8c0"/>
<circle cx="218.6" cy="496.2" r="2.3" fill="#d49898"/>
<circle cx="223.9" cy="496.2" r="2.3" fill="#7474da"/>
<circle cx="229.5" cy="496.2" r="2.3" fill="#4a4ae8"/>
<circle cx="236.1" cy="496.2" r="2.3" fill="#4a4ae8"/>
<circle cx="241.9" cy="496.2" r="2.3" fill="#b6b8c0"/>
<circle cx="247.2" cy="496.2" r="2.3" fill="#fa1a1a"/>
<circle cx="253.0" cy="496.2" r="2.3" fill="#7474da"/>
<circle cx="258.3" cy="496.2" r="2.3" fill="#4a4ae8"/>
<circle cx="155.8" cy="501.2" r="2.3" fill="#d49898"/>
<circle cx="161.6" cy="501.2" r="2.3" fill="#7474da"/>
<circle cx="166.8" cy="501.2" r="2.3" fill="#d49898"/>
<circle cx="173.7" cy="501.2" r="2.3" fill="#7474da"/>
<circle cx="179.0" cy="501.2" r="2.3" fill="#4a4ae8"/>
<circle cx="184.5" cy="501.2" r="2.3" fill="#7474da"/>
<circle cx="190.1" cy="501.2" r="2.3" fill="#2222ee"/>
<circle cx="195.9" cy="501.2" r="2.3" fill="#7474da"/>
<circle cx="201.2" cy="501.2" r="2.3" fill="#7474da"/>
<circle cx="207.0" cy="501.2" r="2.3" fill="#4a4ae8"/>
<circle cx="212.8" cy="501.2" r="2.3" fill="#7474da"/>
<circle cx="218.6" cy="501.2" r="2.3" fill="#b6b8c0"/>
<circle cx="223.9" cy="501.2" r="2.3" fill="#7474da"/>
<circle cx="229.5" cy="501.2" r="2.3" fill="#7474da"/>
<circle cx="236.1" cy="501.2" r="2.3" fill="#b6b8c0"/>
<circle cx="247.2" cy="501.2" r="2.3" fill="#e06a6a"/>
<circle cx="253.0" cy="501.2" r="2.3" fill="#4a4ae8"/>
<circle cx="155.8" cy="506.2" r="2.3" fill="#7474da"/>
<circle cx="161.6" cy="506.2" r="2.3" fill="#7474da"/>
<circle cx="166.8" cy="506.2" r="2.3" fill="#b6b8c0"/>
<circle cx="173.7" cy="506.2" r="2.3" fill="#fa1a1a"/>
<circle cx="179.0" cy="506.2" r="2.3" fill="#4a4ae8"/>
<circle cx="184.5" cy="506.2" r="2.3" fill="#d49898"/>
<circle cx="190.1" cy="506.2" r="2.3" fill="#b6b8c0"/>
<circle cx="195.9" cy="506.2" r="2.3" fill="#4a4ae8"/>
<circle cx="201.2" cy="506.2" r="2.3" fill="#4a4ae8"/>
<circle cx="207.0" cy="506.2" r="2.3" fill="#d49898"/>
<circle cx="212.8" cy="506.2" r="2.3" fill="#7474da"/>
<circle cx="218.6" cy="506.2" r="2.3" fill="#b6b8c0"/>
<circle cx="223.9" cy="506.2" r="2.3" fill="#d49898"/>
<circle cx="229.5" cy="506.2" r="2.3" fill="#b6b8c0"/>
<circle cx="236.1" cy="506.2" r="2.3" fill="#e06a6a"/>
<circle cx="241.9" cy="506.2" r="2.3" fill="#d49898"/>
<circle cx="247.2" cy="506.2" r="2.3" fill="#4a4ae8"/>
<circle cx="155.8" cy="511.4" r="2.3" fill="#7474da"/>
<circle cx="161.6" cy="511.4" r="2.3" fill="#7474da"/>
<circle cx="166.8" cy="511.4" r="2.3" fill="#d49898"/>
<circle cx="173.7" cy="511.4" r="2.3" fill="#d49898"/>
<circle cx="179.0" cy="511.4" r="2.3" fill="#d49898"/>
<circle cx="184.5" cy="511.4" r="2.3" fill="#7474da"/>
<circle cx="190.1" cy="511.4" r="2.3" fill="#4a4ae8"/>
<circle cx="195.9" cy="511.4" r="2.3" fill="#7474da"/>
<circle cx="201.2" cy="511.4" r="2.3" fill="#d49898"/>
<circle cx="207.0" cy="511.4" r="2.3" fill="#fa1a1a"/>
<circle cx="161.6" cy="516.4" r="2.3" fill="#7474da"/>
<circle cx="166.8" cy="516.4" r="2.3" fill="#2222ee"/>
<circle cx="173.7" cy="516.4" r="2.3" fill="#b6b8c0"/>
<circle cx="184.5" cy="516.4" r="2.3" fill="#4a4ae8"/>
<circle cx="190.1" cy="516.4" r="2.3" fill="#fa1a1a"/>
<circle cx="195.9" cy="516.4" r="2.3" fill="#d49898"/>
<circle cx="201.2" cy="516.4" r="2.3" fill="#fa1a1a"/>
<text x="188.2" y="431.1" font-size="12.7" font-style="italic">Nrsn1</text>
<rect x="145.5" y="438.1" width="122.9" height="81.5" fill="none" stroke="#000" stroke-width="1.4"/>
<text x="278.58" y="211.3" font-size="17.4" font-weight="bold">C</text>
<text x="298.82" y="214.9" font-size="12.8">Pattern 1: 309 genes</text>
<g transform="translate(297,220.9)"><g clip-path="url(#hull)"><polygon points="1.5,26.6 19.4,10.8 26.7,5.9 74.2,1.0 98.8,1.0 110.5,5.9 122.0,26.6 122.0,52.8 110.5,63.2 104.4,68.4 55.7,79.0 13.8,79.0 7.7,73.8 1.5,52.8" fill="#5858f2"/><ellipse cx="7" cy="42" rx="6" ry="16" fill="#c4c4ff" filter="url(#bl3)" opacity="1"/><ellipse cx="16" cy="17" rx="8" ry="5" fill="#b4b4ff" filter="url(#bl3)" opacity="1"/><ellipse cx="9" cy="64" rx="7" ry="7" fill="#8282f8" filter="url(#bl3)" opacity="1"/><ellipse cx="21" cy="66" rx="4" ry="3" fill="#4444f0" filter="url(#bl3)" opacity="1"/><ellipse cx="24" cy="76" rx="14" ry="4" fill="#9090f8" filter="url(#bl3)" opacity="1"/><ellipse cx="58" cy="36" rx="6" ry="18" fill="#4a4af0" filter="url(#bl3)" opacity="1"/><ellipse cx="65" cy="36" rx="3.5" ry="10" fill="#2a2af0" filter="url(#bl3)" opacity="1"/><ellipse cx="70" cy="63" rx="3" ry="7" fill="#2e2ef0" filter="url(#bl3)" opacity="1"/><ellipse cx="60" cy="7" rx="14" ry="4" fill="#7878f4" filter="url(#bl3)" opacity="1"/><ellipse cx="107" cy="17" rx="6" ry="8" fill="#a4a4ff" filter="url(#bl3)" opacity="1"/><ellipse cx="110" cy="40" rx="5" ry="10" fill="#7070f6" filter="url(#bl3)" opacity="1"/><ellipse cx="119" cy="47" rx="4" ry="9" fill="#1c1cf0" filter="url(#bl3)" opacity="1"/><ellipse cx="94" cy="69" rx="16" ry="4" fill="#6464f2" filter="url(#bl3)" opacity="1"/><ellipse cx="45" cy="78" rx="8" ry="2.5" fill="#7c7cf6" filter="url(#bl3)" opacity="1"/><polygon points="22.1,15.7 25.8,13.4 32.6,10.6 36.4,13.4 38.5,18.1 40.7,22.6 41.2,31.7 42.5,38.9 45.7,46.2 49.7,53.7 51.3,61.3 50.7,69.1 46.2,72.9 40.2,72.0 37.1,65.8 34.8,58.0 30.4,54.1 28.4,48.8 22.5,46.1 18.0,44.7 13.4,40.4 12.6,34.5 14.0,25.4 16.9,21.0 19.9,16.4" fill="none" stroke="#fff" stroke-width="6.5" stroke-linejoin="round" filter="url(#bl2)"/><polygon points="73.0,11.7 77.5,7.9 83.4,6.4 90.9,7.2 96.9,10.2 100.5,14.0 101.1,19.2 98.7,25.2 96.3,31.0 95.8,39.7 96.0,48.8 95.4,58.0 92.4,61.9 85.6,61.1 79.7,57.2 78.3,48.8 78.6,39.6 78.1,31.0 76.4,25.3 73.2,20.8 71.6,16.2" fill="none" stroke="#fff" stroke-width="6.5" stroke-linejoin="round" filter="url(#bl2)"/><polygon points="22.1,15.7 25.8,13.4 32.6,10.6 36.4,13.4 38.5,18.1 40.7,22.6 41.2,31.7 42.5,38.9 45.7,46.2 49.7,53.7 51.3,61.3 50.7,69.1 46.2,72.9 40.2,72.0 37.1,65.8 34.8,58.0 30.4,54.1 28.4,48.8 22.5,46.1 18.0,44.7 13.4,40.4 12.6,34.5 14.0,25.4 16.9,21.0 19.9,16.4" fill="#ff0000" filter="url(#bl1)"/><polygon points="73.0,11.7 77.5,7.9 83.4,6.4 90.9,7.2 96.9,10.2 100.5,14.0 101.1,19.2 98.7,25.2 96.3,31.0 95.8,39.7 96.0,48.8 95.4,58.0 92.4,61.9 85.6,61.1 79.7,57.2 78.3,48.8 78.6,39.6 78.1,31.0 76.4,25.3 73.2,20.8 71.6,16.2" fill="#ff0000" filter="url(#bl1)"/><ellipse cx="31.5" cy="34.4" rx="2.8" ry="5.6" fill="#ffbcbc" filter="url(#bl1)" opacity="1"/><ellipse cx="31.5" cy="34.4" rx="1.4" ry="3.2" fill="#ffe0e0" filter="url(#bl1)" opacity="1"/><ellipse cx="86.4" cy="27.2" rx="2" ry="2" fill="#ff9090" filter="url(#bl1)" opacity="1"/></g></g>
<rect x="297" y="220.9" width="123.4" height="81.5" fill="none" stroke="#000" stroke-width="1.4"/>
<text x="298.82" y="319.9" font-size="12.8">Pattern 3: 142 genes</text>
<g transform="translate(297,326.6)"><g clip-path="url(#hull)"><polygon points="1.5,26.6 19.4,10.8 26.7,5.9 74.2,1.0 98.8,1.0 110.5,5.9 122.0,26.6 122.0,52.8 110.5,63.2 104.4,68.4 55.7,79.0 13.8,79.0 7.7,73.8 1.5,52.8" fill="#2c2cf0"/><ellipse cx="45" cy="4" rx="24" ry="5" fill="#9c9cfc" filter="url(#bl3)" opacity="1"/><ellipse cx="18" cy="12" rx="8" ry="5" fill="#8080f8" filter="url(#bl3)" opacity="1"/><ellipse cx="5" cy="38" rx="5" ry="14" fill="#7070f6" filter="url(#bl3)" opacity="1"/><ellipse cx="11" cy="50" rx="9" ry="6" fill="#8c8cfa" filter="url(#bl3)" opacity="1"/><ellipse cx="31" cy="34" rx="5" ry="5" fill="#5050f2" filter="url(#bl3)" opacity="1"/><ellipse cx="46" cy="50" rx="4" ry="5" fill="#7878f8" filter="url(#bl3)" opacity="1"/><ellipse cx="25" cy="60" rx="6" ry="5" fill="#6868f4" filter="url(#bl3)" opacity="1"/><ellipse cx="74" cy="45" rx="4" ry="18" fill="#6868f6" filter="url(#bl3)" opacity="1"/><ellipse cx="101" cy="38" rx="4" ry="6" fill="#6a6af6" filter="url(#bl3)" opacity="1"/><ellipse cx="84" cy="75" rx="20" ry="4" fill="#9898fc" filter="url(#bl3)" opacity="1"/><ellipse cx="107" cy="5" rx="8" ry="5" fill="#c8c8ff" filter="url(#bl3)" opacity="1"/><ellipse cx="40" cy="74" rx="10" ry="5" fill="#4848f2" filter="url(#bl3)" opacity="1"/><polygon points="55.1,13.5 61.3,11.1 66.7,8.8 66.7,15.0 66.0,22.8 66.7,30.6 66.0,39.9 66.0,46.1 69.1,49.2 71.4,58.5 73.7,64.7 76.8,68.6 73.7,71.0 64.4,72.5 61.3,67.8 59.7,61.6 58.2,53.8 57.4,46.1 55.9,39.9 54.3,30.6 54.3,22.8 53.5,16.6" fill="none" stroke="#fff" stroke-width="8" stroke-linejoin="round" filter="url(#bl2)"/><polygon points="1.9,55.3 5.7,56.2 9.5,58.6 10.4,61.9 14.2,62.9 18.0,64.8 22.7,68.6 27.5,71.4 29.4,74.3 28.4,78.0 23.7,80.5 10.0,82.0 -2.0,82.0 -2.0,55.0" fill="none" stroke="#fff" stroke-width="6" stroke-linejoin="round" filter="url(#bl2)"/><polygon points="120.2,31.5 115.0,34.1 113.1,37.3 111.2,41.8 108.6,45.7 108.0,52.1 107.3,58.6 106.0,63.7 103.5,68.9 103.5,71.0 126.0,56.0 126.0,30.0" fill="none" stroke="#fff" stroke-width="6" stroke-linejoin="round" filter="url(#bl2)"/><polygon points="55.3,14.2 61.4,11.8 66.6,9.5 66.6,15.7 65.9,23.5 66.5,31.3 65.4,40.3 65.7,45.5 68.7,48.6 71.1,57.9 73.4,64.1 76.5,68.0 73.5,70.3 64.4,71.8 61.4,67.1 59.8,60.9 58.5,53.2 58.0,45.7 56.6,40.0 54.8,31.1 54.6,23.4 53.8,17.2" fill="#ff0000" filter="url(#bl1)"/><polygon points="2.4,55.8 6.1,56.8 9.8,59.2 10.8,62.5 14.2,63.6 17.5,65.2 22.0,68.5 26.8,71.2 28.8,74.0 27.8,77.6 23.3,79.9 10.2,81.3 -1.5,81.5 -1.5,55.4" fill="#ff0000" filter="url(#bl1)"/><polygon points="119.9,32.1 114.9,34.8 113.1,38.0 111.3,42.5 109.1,46.2 108.6,51.7 107.6,58.0 106.3,63.1 103.8,68.3 103.8,70.4 125.4,55.7 125.6,30.6" fill="#ff0000" filter="url(#bl1)"/><ellipse cx="61" cy="14" rx="4" ry="3" fill="#ff9a9a" filter="url(#bl1)" opacity="1"/><ellipse cx="6" cy="60" rx="4" ry="4" fill="#ff8080" filter="url(#bl1)" opacity="1"/></g></g>
<rect x="297" y="326.6" width="123.4" height="81.5" fill="none" stroke="#000" stroke-width="1.4"/>
<text x="298.82" y="431.7" font-size="12.8">Pattern 5: 107 genes</text>
<g transform="translate(297,438.1)"><g clip-path="url(#hull)"><polygon points="1.5,26.6 19.4,10.8 26.7,5.9 74.2,1.0 98.8,1.0 110.5,5.9 122.0,26.6 122.0,52.8 110.5,63.2 104.4,68.4 55.7,79.0 13.8,79.0 7.7,73.8 1.5,52.8" fill="#fdf2f4"/><ellipse cx="17" cy="71" rx="13" ry="8" fill="#a4a4f2" filter="url(#bl3)" opacity="1"/><ellipse cx="9" cy="74" rx="5" ry="4" fill="#8a8aee" filter="url(#bl3)" opacity="1"/><ellipse cx="118" cy="50" rx="6" ry="12" fill="#8484f4" filter="url(#bl3)" opacity="1"/><ellipse cx="61" cy="44" rx="3.5" ry="26" fill="#c0c0fa" filter="url(#bl3)" opacity="1"/><ellipse cx="68" cy="76" rx="8" ry="3" fill="#b4b4f8" filter="url(#bl3)" opacity="1"/><ellipse cx="52" cy="4" rx="16" ry="4" fill="#ffb4b4" filter="url(#bl3)" opacity="1"/><ellipse cx="86" cy="4.5" rx="16" ry="3.5" fill="#ff8c8c" filter="url(#bl3)" opacity="1"/><ellipse cx="2.5" cy="40" rx="1.5" ry="2" fill="#8080f0" filter="url(#bl1)" opacity="1"/><polygon points="2.0,26.7 6.6,20.1 12.2,14.6 18.4,10.1 24.6,8.0 29.5,8.9 23.6,11.9 18.6,15.4 14.9,20.9 12.6,27.4 10.2,33.4 5.3,36.5 1.9,35.5" fill="#ff2c2c" filter="url(#bl2)"/><polygon points="1.9,39.4 6.4,41.5 12.3,46.5 18.2,52.5 25.6,58.4 31.4,63.4 37.5,69.2 42.5,74.2 45.5,80.6 35.7,81.5 29.7,75.5 23.0,69.4 15.6,62.4 8.6,56.2 2.1,53.2" fill="#ff2c2c" filter="url(#bl2)"/><polygon points="36.5,8.3 42.8,7.6 46.4,11.0 43.7,14.5 38.5,12.2" fill="#ff2c2c" filter="url(#bl2)"/><polygon points="42.7,14.6 47.6,13.6 50.5,20.6 51.0,31.6 52.4,42.2 55.2,50.5 57.8,58.5 58.8,67.4 54.9,71.4 53.4,66.4 51.0,58.4 48.7,50.4 47.1,42.1 45.7,31.5 45.2,21.6" fill="#ff2c2c" filter="url(#bl2)"/><polygon points="64.9,8.6 69.6,10.6 70.6,20.6 74.4,24.6 76.7,29.5 77.1,36.1 78.2,46.5 78.8,55.4 79.8,61.4 72.0,65.4 68.1,59.4 68.0,46.4 67.4,30.5 65.2,20.6" fill="#ff2c2c" filter="url(#bl2)"/><polygon points="78.6,62.1 85.6,63.1 90.4,63.5 95.5,60.3 99.6,55.4 103.5,57.3 99.4,65.8 91.9,69.9 82.5,70.1 76.6,67.3" fill="#ff2c2c" filter="url(#bl2)"/><polygon points="103.6,12.6 107.9,13.6 112.8,18.5 115.0,27.4 113.9,35.9 109.7,42.5 106.0,49.4 102.6,56.4 97.7,56.4 98.8,46.5 99.5,38.7 101.9,31.4 104.1,22.6" fill="#ff2c2c" filter="url(#bl2)"/><polygon points="24.5,14.5 31.0,12.8 38.3,15.0 41.3,20.5 42.2,31.0 43.8,41.9 46.1,51.2 49.2,59.0 50.0,66.5 46.6,69.4 40.8,66.5 36.0,60.6 31.5,54.5 24.5,48.5 18.5,42.0 16.2,34.2 18.3,25.0 21.2,17.5" fill="none" stroke="#fff" stroke-width="5.5" stroke-linejoin="round" filter="url(#bl1)"/><polygon points="72.4,14.0 77.1,9.3 83.3,8.5 91.1,9.3 97.3,11.6 101.1,14.0 101.1,21.7 98.8,31.0 96.5,38.8 95.7,46.6 94.2,57.5 90.3,60.6 84.8,59.8 81.7,55.9 81.0,46.6 80.2,35.7 79.4,28.0 77.1,23.3 73.2,20.2" fill="none" stroke="#fff" stroke-width="5.5" stroke-linejoin="round" filter="url(#bl1)"/><polygon points="24.5,14.5 31.0,12.8 38.3,15.0 41.3,20.5 42.2,31.0 43.8,41.9 46.1,51.2 49.2,59.0 50.0,66.5 46.6,69.4 40.8,66.5 36.0,60.6 31.5,54.5 24.5,48.5 18.5,42.0 16.2,34.2 18.3,25.0 21.2,17.5" fill="#0000ff" filter="url(#bl1)"/><polygon points="72.4,14.0 77.1,9.3 83.3,8.5 91.1,9.3 97.3,11.6 101.1,14.0 101.1,21.7 98.8,31.0 96.5,38.8 95.7,46.6 94.2,57.5 90.3,60.6 84.8,59.8 81.7,55.9 81.0,46.6 80.2,35.7 79.4,28.0 77.1,23.3 73.2,20.2" fill="#0000ff" filter="url(#bl1)"/></g></g>
<rect x="297" y="438.1" width="123.4" height="81.5" fill="none" stroke="#000" stroke-width="1.4"/>
<text x="449.6" y="15.4" font-size="17.4" font-weight="bold">D</text>
<path d="M480.30,30.18 C480.30,27.57 481.77,24.00 482.80,21.89 C483.83,19.77 484.81,18.84 486.48,17.49 C488.15,16.15 490.73,14.76 492.81,13.82 C494.90,12.88 495.88,12.60 498.99,11.87 C502.11,11.14 507.34,10.10 511.51,9.42 C515.68,8.74 519.85,8.23 524.02,7.81 C528.19,7.39 532.53,7.15 536.53,6.92 C540.53,6.69 544.11,6.53 548.01,6.42 C551.91,6.31 555.86,6.28 559.94,6.25 C564.01,6.22 568.28,6.14 572.45,6.25 C576.62,6.36 580.79,6.61 584.96,6.92 C589.13,7.22 593.30,7.36 597.47,8.09 C601.64,8.81 606.65,10.21 609.98,11.26 C613.32,12.31 615.41,13.12 617.49,14.37 C619.58,15.63 621.02,17.00 622.50,18.77 C623.97,20.54 625.49,22.93 626.32,25.00 C627.16,27.08 627.50,29.15 627.50,31.24 C627.50,33.32 627.16,35.65 626.32,37.53 C625.49,39.40 624.16,40.82 622.50,42.48 C620.83,44.14 618.40,46.02 616.31,47.49 C614.23,48.95 613.12,49.81 609.98,51.27 C606.84,52.73 601.64,54.87 597.47,56.22 C593.30,57.58 589.13,58.56 584.96,59.40 C580.79,60.23 576.62,60.81 572.45,61.23 C568.28,61.65 564.67,62.00 559.94,61.90 C555.20,61.80 547.94,60.97 544.04,60.62 C540.14,60.27 539.87,60.30 536.53,59.79 C533.19,59.27 528.19,58.40 524.02,57.50 C519.85,56.60 515.68,55.74 511.51,54.39 C507.34,53.03 502.11,50.72 498.99,49.38 C495.88,48.03 494.90,47.56 492.81,46.32 C490.73,45.08 488.15,43.39 486.48,41.92 C484.81,40.46 483.83,39.48 482.80,37.53 C481.77,35.57 480.30,32.79 480.30,30.18Z" fill="url(#dtex)"/>
<path d="M480.30,30.18 C480.30,27.57 481.77,24.00 482.80,21.89 C483.83,19.77 484.81,18.84 486.48,17.49 C488.15,16.15 490.73,14.76 492.81,13.82 C494.90,12.88 495.88,12.60 498.99,11.87 C502.11,11.14 507.34,10.10 511.51,9.42 C515.68,8.74 519.85,8.23 524.02,7.81 C528.19,7.39 532.53,7.15 536.53,6.92 C540.53,6.69 544.11,6.53 548.01,6.42 C551.91,6.31 555.86,6.28 559.94,6.25 C564.01,6.22 568.28,6.14 572.45,6.25 C576.62,6.36 580.79,6.61 584.96,6.92 C589.13,7.22 593.30,7.36 597.47,8.09 C601.64,8.81 606.65,10.21 609.98,11.26 C613.32,12.31 615.41,13.12 617.49,14.37 C619.58,15.63 621.02,17.00 622.50,18.77 C623.97,20.54 625.49,22.93 626.32,25.00 C627.16,27.08 627.50,29.15 627.50,31.24 C627.50,33.32 627.16,35.65 626.32,37.53 C625.49,39.40 624.16,40.82 622.50,42.48 C620.83,44.14 618.40,46.02 616.31,47.49 C614.23,48.95 613.12,49.81 609.98,51.27 C606.84,52.73 601.64,54.87 597.47,56.22 C593.30,57.58 589.13,58.56 584.96,59.40 C580.79,60.23 576.62,60.81 572.45,61.23 C568.28,61.65 564.67,62.00 559.94,61.90 C555.20,61.80 547.94,60.97 544.04,60.62 C540.14,60.27 539.87,60.30 536.53,59.79 C533.19,59.27 528.19,58.40 524.02,57.50 C519.85,56.60 515.68,55.74 511.51,54.39 C507.34,53.03 502.11,50.72 498.99,49.38 C495.88,48.03 494.90,47.56 492.81,46.32 C490.73,45.08 488.15,43.39 486.48,41.92 C484.81,40.46 483.83,39.48 482.80,37.53 C481.77,35.57 480.30,32.79 480.30,30.18Z" fill="url(#dgrad)" stroke="#a82424" stroke-width="1.0"/>
<text x="500.5" y="77.8" font-size="10.4">dorsal</text>
<text x="498.0" y="125.4" font-size="10.4">ventral</text>
<text transform="translate(491.2,116.18) rotate(-90)" font-size="10.4">anterior</text>
<text transform="translate(544.0,120.32) rotate(-90)" font-size="10.4">posterior</text>
<g fill="#3c3c3c" stroke="none"><rect x="500.2" y="96.3" width="26" height="1.8"/><rect x="512.3" y="86.2" width="1.8" height="22"/><polygon points="496.0,97.2 504.7,92.6 502.7,97.2 504.7,101.8"/><polygon points="530.4,97.2 521.7,92.6 523.7,97.2 521.7,101.8"/><polygon points="513.2,82.8 508.6,91.0 513.2,89.0 517.8,91.0"/><polygon points="513.2,112.0 508.6,103.8 513.2,105.8 517.8,103.8"/></g>
<rect x="568.2" y="69.5" width="61.3" height="65.8" fill="#e3e3e3"/>
<text transform="translate(587.2,127.84) rotate(-90)" font-size="12">side view</text>
<path d="M594.3,74.6 A27.2,27.6 0 0 1 594.3,129.8 Z" fill="url(#sgrad)"/>
<path d="M594.3,74.6 A27.2,27.6 0 0 1 594.3,129.8 Z" fill="url(#stex)" opacity="0.35"/>
<text x="452.38" y="155.4" font-size="17.4" font-weight="bold">E</text>
<text x="496.94" y="157.8" font-size="12.9">Pattern 2 gene: <tspan font-style="italic">twi</tspan></text>
<g transform="translate(466,164.5)"><g clip-path="url(#embclip)"><use href="#emb" fill="#ff1010"/><use href="#emb" transform="translate(89,-7.0) scale(0.975,1) translate(-89,0)" fill="none" stroke="#b4b4c8" stroke-width="3.2" filter="url(#bl1)"/><use href="#emb" transform="translate(89,-8.2) scale(0.975,1) translate(-89,0)" fill="url(#btex)"/></g></g>
<rect x="466" y="164.5" width="176.0" height="68.1" fill="none" stroke="#000" stroke-width="1.4"/>
<text x="495.94" y="252.2" font-size="12.9">Pattern 9 gene: <tspan font-style="italic">eve</tspan></text>
<g transform="translate(466,258.2)"><g clip-path="url(#embclip)"><use href="#emb" fill="url(#btex)"/><g filter="url(#bl05)"><polygon points="62.66,-2 69.56,-2 60.14,70 53.24,70" fill="#c4c4da"/><polygon points="73.55,-2 80.95,-2 71.95,70 64.55,70" fill="#c4c4da"/><polygon points="83.81,-2 91.41,-2 85.59,70 77.99,70" fill="#c4c4da"/><polygon points="91.88,-2 99.38,-2 98.42,70 90.92,70" fill="#c4c4da"/><polygon points="100.99,-2 108.49,-2 111.81,70 104.31,70" fill="#c4c4da"/><polygon points="108.76,-2 116.56,-2 127.64,70 119.84,70" fill="#c4c4da"/><polygon points="120.07,-2 128.87,-2 144.93,70 136.13,70" fill="#c4c4da"/><polygon points="64.36,-2 67.86,-2 58.44,70 54.94,70" fill="#ff1010"/><polygon points="75.25,-2 79.25,-2 70.25,70 66.25,70" fill="#ff1010"/><polygon points="85.51,-2 89.71,-2 83.89,70 79.69,70" fill="#ff1010"/><polygon points="93.58,-2 97.68,-2 96.72,70 92.62,70" fill="#ff1010"/><polygon points="102.69,-2 106.79,-2 110.11,70 106.01,70" fill="#ff1010"/><polygon points="110.46,-2 114.86,-2 125.94,70 121.54,70" fill="#ff1010"/><polygon points="121.77,-2 127.17,-2 143.23,70 137.83,70" fill="#ff1010"/></g></g></g>
<rect x="466" y="258.2" width="176.0" height="68.1" fill="none" stroke="#000" stroke-width="1.4"/>
<text x="499.7" y="352.2" font-size="12.9">Pattern 13 gene: <tspan font-style="italic">Kr</tspan></text>
<g transform="translate(464.1,358.5)"><g clip-path="url(#embclip)"><use href="#emb" fill="url(#btex)"/><g filter="url(#bl1)"><ellipse cx="41.5" cy="26" rx="4.2" ry="15" transform="rotate(14 41.5 26)" fill="#9494e6" filter="url(#bl2)"/><ellipse cx="42" cy="24" rx="2.2" ry="11" transform="rotate(14 42 24)" fill="#d0d0e4" filter="url(#bl1)"/><polygon points="96.56,-2 100.76,-2 100.24,70 96.04,70" fill="#c8c8dc"/><polygon points="77.98,-2 97.48,-2 93.82,70 74.32,70" fill="#b8b8d0"/><polygon points="79.48,-2 95.98,-2 92.32,70 75.82,70" fill="#ff1010"/><ellipse cx="151" cy="22" rx="7.5" ry="13" fill="#c0b0c8"/><ellipse cx="150.5" cy="19" rx="4.5" ry="7" fill="#e44848"/></g></g></g>
<rect x="464.1" y="358.5" width="176.1" height="68.5" fill="none" stroke="#000" stroke-width="1.4"/>
<text x="490.18" y="445.5" font-size="12.9">Pattern 12 gene: <tspan font-style="italic">odd</tspan></text>
<g transform="translate(462,452.3)"><g clip-path="url(#embclip)"><use href="#emb" fill="url(#btex)"/><g filter="url(#bl05)"><polygon points="70.80,-2 77.60,-2 66.62,70 59.82,70" fill="#c4c4da"/><polygon points="81.80,-2 88.70,-2 78.75,70 71.85,70" fill="#c4c4da"/><polygon points="88.92,-2 95.72,-2 93.50,70 86.70,70" fill="#c4c4da"/><polygon points="96.69,-2 103.49,-2 106.31,70 99.51,70" fill="#c4c4da"/><polygon points="105.87,-2 112.77,-2 120.19,70 113.29,70" fill="#c4c4da"/><polygon points="114.69,-2 121.79,-2 135.90,70 128.80,70" fill="#c4c4da"/><polygon points="72.50,-2 75.90,-2 64.92,70 61.52,70" fill="#ff1010"/><polygon points="83.50,-2 87.00,-2 77.05,70 73.55,70" fill="#ff1010"/><polygon points="90.62,-2 94.02,-2 91.80,70 88.40,70" fill="#ff1010"/><polygon points="98.39,-2 101.79,-2 104.61,70 101.21,70" fill="#ff1010"/><polygon points="107.57,-2 111.07,-2 118.49,70 114.99,70" fill="#ff1010"/><polygon points="116.39,-2 120.09,-2 134.20,70 130.50,70" fill="#ff1010"/><polygon points="131.2,13 135.2,12.5 145.2,44.5 141.2,45" fill="#b0b0cc"/><polygon points="132,13.5 134.6,13 144.4,44 141.8,44.5" fill="#ff1010"/></g><g filter="url(#bl1)"><path d="M26,46 C32,44 38,47 46,47" fill="none" stroke="#c8c0cc" stroke-width="3.2"/><path d="M20,30 C20.5,25 22,22 25,20 C24,25 24,31 25.5,37 C22.5,35.5 20.5,33 20,30Z" fill="#ff1818"/><path d="M25,20 C24,25 24,31 25.5,37" fill="none" stroke="#c8b8c8" stroke-width="2"/></g></g></g>
<rect x="462" y="452.3" width="176.5" height="68.4" fill="none" stroke="#000" stroke-width="1.4"/>
</svg></body></html>
